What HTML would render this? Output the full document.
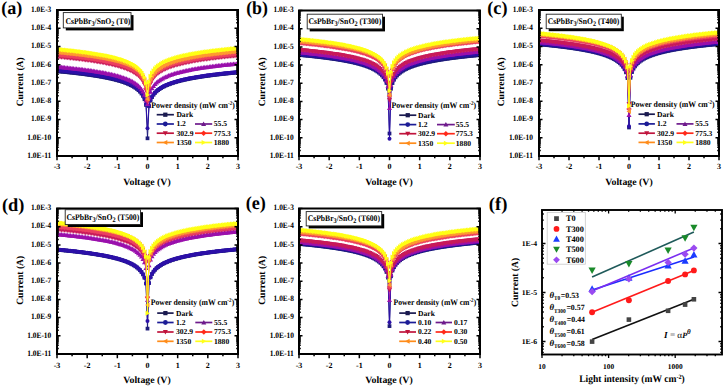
<!DOCTYPE html>
<html><head><meta charset="utf-8"><style>
html,body{margin:0;padding:0;background:#fff;}
body{width:725px;height:386px;overflow:hidden;}
svg{display:block;}
text{font-family:"Liberation Serif",serif;font-weight:bold;fill:#000;text-rendering:geometricPrecision;}
</style></head><body>
<svg width="725" height="386" viewBox="0 0 725 386">
<defs><marker id="m0" markerUnits="userSpaceOnUse" markerWidth="8" markerHeight="8" refX="4" refY="4" overflow="visible"><rect x="2.13" y="2.13" width="3.74" height="3.74" fill="#1e1b7b"/></marker>
<marker id="m1" markerUnits="userSpaceOnUse" markerWidth="8" markerHeight="8" refX="4" refY="4" overflow="visible"><circle cx="4" cy="4" r="1.99" fill="#2c10a8"/></marker>
<marker id="m2" markerUnits="userSpaceOnUse" markerWidth="8" markerHeight="8" refX="4" refY="4" overflow="visible"><polygon points="4,1.5 6.5,6 1.5,6" fill="#9a10ac"/></marker>
<marker id="m3" markerUnits="userSpaceOnUse" markerWidth="8" markerHeight="8" refX="4" refY="4" overflow="visible"><polygon points="4,6.5 6.5,2 1.5,2" fill="#c81a5a"/></marker>
<marker id="m4" markerUnits="userSpaceOnUse" markerWidth="8" markerHeight="8" refX="4" refY="4" overflow="visible"><polygon points="4,1.25 6.75,4 4,6.75 1.25,4" fill="#ec4060"/></marker>
<marker id="m5" markerUnits="userSpaceOnUse" markerWidth="8" markerHeight="8" refX="4" refY="4" overflow="visible"><polygon points="1.5,4 6,1.5 6,6.5" fill="#ff9a30"/></marker>
<marker id="m6" markerUnits="userSpaceOnUse" markerWidth="8" markerHeight="8" refX="4" refY="4" overflow="visible"><polygon points="6.5,4 2,1.5 2,6.5" fill="#ffff14"/></marker>
<clipPath id="ca"><rect x="57" y="10" width="181" height="146"/></clipPath>
<clipPath id="cb"><rect x="299" y="10.5" width="181" height="145.5"/></clipPath>
<clipPath id="cc"><rect x="539" y="10" width="180" height="146"/></clipPath>
<clipPath id="cd"><rect x="57" y="208.5" width="181" height="145.5"/></clipPath>
<clipPath id="ce"><rect x="299" y="208.5" width="181" height="145.5"/></clipPath></defs>
<rect width="725" height="386" fill="#fff"/>
<g clip-path="url(#ca)">
<polyline points="57,71.2 58.51,71.34 60.02,71.48 61.52,71.62 63.03,71.77 64.54,71.92 66.05,72.07 67.56,72.22 69.07,72.38 70.57,72.54 72.08,72.7 73.59,72.87 75.1,73.04 76.61,73.22 78.12,73.39 79.62,73.57 81.13,73.76 82.64,73.95 84.15,74.14 85.66,74.34 87.17,74.55 88.67,74.75 90.18,74.97 91.69,75.19 93.2,75.42 94.71,75.65 96.22,75.89 97.72,76.13 99.23,76.39 100.74,76.65 102.25,76.92 103.76,77.2 105.27,77.49 106.77,77.79 108.28,78.1 109.79,78.42 111.3,78.76 112.81,79.11 114.32,79.48 115.83,79.86 117.33,80.27 118.84,80.69 120.35,81.13 121.86,81.61 123.37,82.11 124.88,82.64 126.38,83.21 127.89,83.82 129.4,84.48 130.91,85.2 132.42,85.98 133.93,86.85 135.43,87.83 136.94,88.93 138.45,90.2 139.96,91.7 141.47,93.55 142.98,95.92 144.48,99.27 145.99,104.98 147.5,138.3 149.01,106.18 150.52,100.47 152.03,97.12 153.53,94.75 155.04,92.9 156.55,91.4 158.06,90.13 159.57,89.03 161.08,88.05 162.58,87.18 164.09,86.4 165.6,85.68 167.11,85.02 168.62,84.41 170.12,83.84 171.63,83.31 173.14,82.81 174.65,82.33 176.16,81.89 177.67,81.47 179.17,81.06 180.68,80.68 182.19,80.31 183.7,79.96 185.21,79.62 186.72,79.3 188.22,78.99 189.73,78.69 191.24,78.4 192.75,78.12 194.26,77.85 195.77,77.59 197.28,77.33 198.78,77.09 200.29,76.85 201.8,76.62 203.31,76.39 204.82,76.17 206.33,75.95 207.83,75.75 209.34,75.54 210.85,75.34 212.36,75.15 213.87,74.96 215.38,74.77 216.88,74.59 218.39,74.42 219.9,74.24 221.41,74.07 222.92,73.9 224.43,73.74 225.93,73.58 227.44,73.42 228.95,73.27 230.46,73.12 231.97,72.97 233.47,72.82 234.98,72.68 236.49,72.54 238,72.4" fill="none" stroke="#1e1b7b" stroke-width="1" marker-start="url(#m0)" marker-mid="url(#m0)" marker-end="url(#m0)"/>
<polyline points="57,70.2 58.51,70.34 60.02,70.48 61.52,70.62 63.03,70.77 64.54,70.92 66.05,71.07 67.56,71.22 69.07,71.38 70.57,71.54 72.08,71.7 73.59,71.87 75.1,72.04 76.61,72.22 78.12,72.39 79.62,72.57 81.13,72.76 82.64,72.95 84.15,73.14 85.66,73.34 87.17,73.55 88.67,73.75 90.18,73.97 91.69,74.19 93.2,74.42 94.71,74.65 96.22,74.89 97.72,75.13 99.23,75.39 100.74,75.65 102.25,75.92 103.76,76.2 105.27,76.49 106.77,76.79 108.28,77.1 109.79,77.42 111.3,77.76 112.81,78.11 114.32,78.48 115.83,78.86 117.33,79.27 118.84,79.69 120.35,80.13 121.86,80.61 123.37,81.11 124.88,81.64 126.38,82.21 127.89,82.82 129.4,83.48 130.91,84.2 132.42,84.98 133.93,85.85 135.43,86.83 136.94,87.93 138.45,89.2 139.96,90.7 141.47,92.55 142.98,94.92 144.48,98.27 145.99,103.98 147.5,128.2 149.01,105.78 150.52,100.07 152.03,96.72 153.53,94.35 155.04,92.5 156.55,91 158.06,89.73 159.57,88.63 161.08,87.65 162.58,86.78 164.09,86 165.6,85.28 167.11,84.62 168.62,84.01 170.12,83.44 171.63,82.91 173.14,82.41 174.65,81.93 176.16,81.49 177.67,81.07 179.17,80.66 180.68,80.28 182.19,79.91 183.7,79.56 185.21,79.22 186.72,78.9 188.22,78.59 189.73,78.29 191.24,78 192.75,77.72 194.26,77.45 195.77,77.19 197.28,76.93 198.78,76.69 200.29,76.45 201.8,76.22 203.31,75.99 204.82,75.77 206.33,75.55 207.83,75.35 209.34,75.14 210.85,74.94 212.36,74.75 213.87,74.56 215.38,74.37 216.88,74.19 218.39,74.02 219.9,73.84 221.41,73.67 222.92,73.5 224.43,73.34 225.93,73.18 227.44,73.02 228.95,72.87 230.46,72.72 231.97,72.57 233.47,72.42 234.98,72.28 236.49,72.14 238,72" fill="none" stroke="#2c10a8" stroke-width="1" marker-start="url(#m1)" marker-mid="url(#m1)" marker-end="url(#m1)"/>
<polyline points="57,66.8 58.51,66.94 60.02,67.08 61.52,67.22 63.03,67.37 64.54,67.52 66.05,67.67 67.56,67.82 69.07,67.98 70.57,68.14 72.08,68.3 73.59,68.47 75.1,68.64 76.61,68.82 78.12,68.99 79.62,69.17 81.13,69.36 82.64,69.55 84.15,69.74 85.66,69.94 87.17,70.15 88.67,70.35 90.18,70.57 91.69,70.79 93.2,71.02 94.71,71.25 96.22,71.49 97.72,71.73 99.23,71.99 100.74,72.25 102.25,72.52 103.76,72.8 105.27,73.09 106.77,73.39 108.28,73.7 109.79,74.02 111.3,74.36 112.81,74.71 114.32,75.08 115.83,75.46 117.33,75.87 118.84,76.29 120.35,76.73 121.86,77.21 123.37,77.71 124.88,78.24 126.38,78.81 127.89,79.42 129.4,80.08 130.91,80.8 132.42,81.58 133.93,82.45 135.43,83.43 136.94,84.53 138.45,85.8 139.96,87.3 141.47,89.15 142.98,91.52 144.48,94.87 145.99,100.58 147.5,104 149.01,97.38 150.52,91.67 152.03,88.32 153.53,85.95 155.04,84.1 156.55,82.6 158.06,81.33 159.57,80.23 161.08,79.25 162.58,78.38 164.09,77.6 165.6,76.88 167.11,76.22 168.62,75.61 170.12,75.04 171.63,74.51 173.14,74.01 174.65,73.53 176.16,73.09 177.67,72.67 179.17,72.26 180.68,71.88 182.19,71.51 183.7,71.16 185.21,70.82 186.72,70.5 188.22,70.19 189.73,69.89 191.24,69.6 192.75,69.32 194.26,69.05 195.77,68.79 197.28,68.53 198.78,68.29 200.29,68.05 201.8,67.82 203.31,67.59 204.82,67.37 206.33,67.15 207.83,66.95 209.34,66.74 210.85,66.54 212.36,66.35 213.87,66.16 215.38,65.97 216.88,65.79 218.39,65.62 219.9,65.44 221.41,65.27 222.92,65.1 224.43,64.94 225.93,64.78 227.44,64.62 228.95,64.47 230.46,64.32 231.97,64.17 233.47,64.02 234.98,63.88 236.49,63.74 238,63.6" fill="none" stroke="#9a10ac" stroke-width="1" marker-start="url(#m2)" marker-mid="url(#m2)" marker-end="url(#m2)"/>
<polyline points="57,56.8 58.51,56.94 60.02,57.08 61.52,57.22 63.03,57.37 64.54,57.52 66.05,57.67 67.56,57.82 69.07,57.98 70.57,58.14 72.08,58.3 73.59,58.47 75.1,58.64 76.61,58.82 78.12,58.99 79.62,59.17 81.13,59.36 82.64,59.55 84.15,59.74 85.66,59.94 87.17,60.15 88.67,60.35 90.18,60.57 91.69,60.79 93.2,61.02 94.71,61.25 96.22,61.49 97.72,61.73 99.23,61.99 100.74,62.25 102.25,62.52 103.76,62.8 105.27,63.09 106.77,63.39 108.28,63.7 109.79,64.02 111.3,64.36 112.81,64.71 114.32,65.08 115.83,65.46 117.33,65.87 118.84,66.29 120.35,66.73 121.86,67.21 123.37,67.71 124.88,68.24 126.38,68.81 127.89,69.42 129.4,70.08 130.91,70.8 132.42,71.58 133.93,72.45 135.43,73.43 136.94,74.53 138.45,75.8 139.96,77.3 141.47,79.15 142.98,81.52 144.48,84.87 145.99,90.58 147.5,102 149.01,89.38 150.52,83.67 152.03,80.32 153.53,77.95 155.04,76.1 156.55,74.6 158.06,73.33 159.57,72.23 161.08,71.25 162.58,70.38 164.09,69.6 165.6,68.88 167.11,68.22 168.62,67.61 170.12,67.04 171.63,66.51 173.14,66.01 174.65,65.53 176.16,65.09 177.67,64.67 179.17,64.26 180.68,63.88 182.19,63.51 183.7,63.16 185.21,62.82 186.72,62.5 188.22,62.19 189.73,61.89 191.24,61.6 192.75,61.32 194.26,61.05 195.77,60.79 197.28,60.53 198.78,60.29 200.29,60.05 201.8,59.82 203.31,59.59 204.82,59.37 206.33,59.15 207.83,58.95 209.34,58.74 210.85,58.54 212.36,58.35 213.87,58.16 215.38,57.97 216.88,57.79 218.39,57.62 219.9,57.44 221.41,57.27 222.92,57.1 224.43,56.94 225.93,56.78 227.44,56.62 228.95,56.47 230.46,56.32 231.97,56.17 233.47,56.02 234.98,55.88 236.49,55.74 238,55.6" fill="none" stroke="#c81a5a" stroke-width="1" marker-start="url(#m3)" marker-mid="url(#m3)" marker-end="url(#m3)"/>
<polyline points="57,54.6 58.51,54.74 60.02,54.88 61.52,55.02 63.03,55.17 64.54,55.32 66.05,55.47 67.56,55.62 69.07,55.78 70.57,55.94 72.08,56.1 73.59,56.27 75.1,56.44 76.61,56.62 78.12,56.79 79.62,56.97 81.13,57.16 82.64,57.35 84.15,57.54 85.66,57.74 87.17,57.95 88.67,58.15 90.18,58.37 91.69,58.59 93.2,58.82 94.71,59.05 96.22,59.29 97.72,59.53 99.23,59.79 100.74,60.05 102.25,60.32 103.76,60.6 105.27,60.89 106.77,61.19 108.28,61.5 109.79,61.82 111.3,62.16 112.81,62.51 114.32,62.88 115.83,63.26 117.33,63.67 118.84,64.09 120.35,64.53 121.86,65.01 123.37,65.51 124.88,66.04 126.38,66.61 127.89,67.22 129.4,67.88 130.91,68.6 132.42,69.38 133.93,70.25 135.43,71.23 136.94,72.33 138.45,73.6 139.96,75.1 141.47,76.95 142.98,79.32 144.48,82.67 145.99,88.38 147.5,100 149.01,87.38 150.52,81.67 152.03,78.32 153.53,75.95 155.04,74.1 156.55,72.6 158.06,71.33 159.57,70.23 161.08,69.25 162.58,68.38 164.09,67.6 165.6,66.88 167.11,66.22 168.62,65.61 170.12,65.04 171.63,64.51 173.14,64.01 174.65,63.53 176.16,63.09 177.67,62.67 179.17,62.26 180.68,61.88 182.19,61.51 183.7,61.16 185.21,60.82 186.72,60.5 188.22,60.19 189.73,59.89 191.24,59.6 192.75,59.32 194.26,59.05 195.77,58.79 197.28,58.53 198.78,58.29 200.29,58.05 201.8,57.82 203.31,57.59 204.82,57.37 206.33,57.15 207.83,56.95 209.34,56.74 210.85,56.54 212.36,56.35 213.87,56.16 215.38,55.97 216.88,55.79 218.39,55.62 219.9,55.44 221.41,55.27 222.92,55.1 224.43,54.94 225.93,54.78 227.44,54.62 228.95,54.47 230.46,54.32 231.97,54.17 233.47,54.02 234.98,53.88 236.49,53.74 238,53.6" fill="none" stroke="#ec4060" stroke-width="1" marker-start="url(#m4)" marker-mid="url(#m4)" marker-end="url(#m4)"/>
<polyline points="57,52.3 58.51,52.44 60.02,52.58 61.52,52.72 63.03,52.87 64.54,53.02 66.05,53.17 67.56,53.32 69.07,53.48 70.57,53.64 72.08,53.8 73.59,53.97 75.1,54.14 76.61,54.32 78.12,54.49 79.62,54.67 81.13,54.86 82.64,55.05 84.15,55.24 85.66,55.44 87.17,55.65 88.67,55.85 90.18,56.07 91.69,56.29 93.2,56.52 94.71,56.75 96.22,56.99 97.72,57.23 99.23,57.49 100.74,57.75 102.25,58.02 103.76,58.3 105.27,58.59 106.77,58.89 108.28,59.2 109.79,59.52 111.3,59.86 112.81,60.21 114.32,60.58 115.83,60.96 117.33,61.37 118.84,61.79 120.35,62.23 121.86,62.71 123.37,63.21 124.88,63.74 126.38,64.31 127.89,64.92 129.4,65.58 130.91,66.3 132.42,67.08 133.93,67.95 135.43,68.93 136.94,70.03 138.45,71.3 139.96,72.8 141.47,74.65 142.98,77.02 144.48,80.37 145.99,86.08 147.5,99 149.01,85.08 150.52,79.37 152.03,76.02 153.53,73.65 155.04,71.8 156.55,70.3 158.06,69.03 159.57,67.93 161.08,66.95 162.58,66.08 164.09,65.3 165.6,64.58 167.11,63.92 168.62,63.31 170.12,62.74 171.63,62.21 173.14,61.71 174.65,61.23 176.16,60.79 177.67,60.37 179.17,59.96 180.68,59.58 182.19,59.21 183.7,58.86 185.21,58.52 186.72,58.2 188.22,57.89 189.73,57.59 191.24,57.3 192.75,57.02 194.26,56.75 195.77,56.49 197.28,56.23 198.78,55.99 200.29,55.75 201.8,55.52 203.31,55.29 204.82,55.07 206.33,54.85 207.83,54.65 209.34,54.44 210.85,54.24 212.36,54.05 213.87,53.86 215.38,53.67 216.88,53.49 218.39,53.32 219.9,53.14 221.41,52.97 222.92,52.8 224.43,52.64 225.93,52.48 227.44,52.32 228.95,52.17 230.46,52.02 231.97,51.87 233.47,51.72 234.98,51.58 236.49,51.44 238,51.3" fill="none" stroke="#ff9a30" stroke-width="1" marker-start="url(#m5)" marker-mid="url(#m5)" marker-end="url(#m5)"/>
<polyline points="57,49.2 58.51,49.34 60.02,49.48 61.52,49.62 63.03,49.77 64.54,49.92 66.05,50.07 67.56,50.22 69.07,50.38 70.57,50.54 72.08,50.7 73.59,50.87 75.1,51.04 76.61,51.22 78.12,51.39 79.62,51.57 81.13,51.76 82.64,51.95 84.15,52.14 85.66,52.34 87.17,52.55 88.67,52.75 90.18,52.97 91.69,53.19 93.2,53.42 94.71,53.65 96.22,53.89 97.72,54.13 99.23,54.39 100.74,54.65 102.25,54.92 103.76,55.2 105.27,55.49 106.77,55.79 108.28,56.1 109.79,56.42 111.3,56.76 112.81,57.11 114.32,57.48 115.83,57.86 117.33,58.27 118.84,58.69 120.35,59.13 121.86,59.61 123.37,60.11 124.88,60.64 126.38,61.21 127.89,61.82 129.4,62.48 130.91,63.2 132.42,63.98 133.93,64.85 135.43,65.83 136.94,66.93 138.45,68.2 139.96,69.7 141.47,71.55 142.98,73.92 144.48,77.27 145.99,82.98 147.5,95 149.01,82.08 150.52,76.37 152.03,73.02 153.53,70.65 155.04,68.8 156.55,67.3 158.06,66.03 159.57,64.93 161.08,63.95 162.58,63.08 164.09,62.3 165.6,61.58 167.11,60.92 168.62,60.31 170.12,59.74 171.63,59.21 173.14,58.71 174.65,58.23 176.16,57.79 177.67,57.37 179.17,56.96 180.68,56.58 182.19,56.21 183.7,55.86 185.21,55.52 186.72,55.2 188.22,54.89 189.73,54.59 191.24,54.3 192.75,54.02 194.26,53.75 195.77,53.49 197.28,53.23 198.78,52.99 200.29,52.75 201.8,52.52 203.31,52.29 204.82,52.07 206.33,51.85 207.83,51.65 209.34,51.44 210.85,51.24 212.36,51.05 213.87,50.86 215.38,50.67 216.88,50.49 218.39,50.32 219.9,50.14 221.41,49.97 222.92,49.8 224.43,49.64 225.93,49.48 227.44,49.32 228.95,49.17 230.46,49.02 231.97,48.87 233.47,48.72 234.98,48.58 236.49,48.44 238,48.3" fill="none" stroke="#ffff14" stroke-width="1" marker-start="url(#m6)" marker-mid="url(#m6)" marker-end="url(#m6)"/>
</g>
<path d="M57 10h3.5M238 10h-3.5M57 22.76h1.8M238 22.76h-1.8M57 19.54h1.8M238 19.54h-1.8M57 17.26h1.8M238 17.26h-1.8M57 15.49h1.8M238 15.49h-1.8M57 14.05h1.8M238 14.05h-1.8M57 12.83h1.8M238 12.83h-1.8M57 11.77h1.8M238 11.77h-1.8M57 10.84h1.8M238 10.84h-1.8M57 28.25h3.5M238 28.25h-3.5M57 41.01h1.8M238 41.01h-1.8M57 37.79h1.8M238 37.79h-1.8M57 35.51h1.8M238 35.51h-1.8M57 33.74h1.8M238 33.74h-1.8M57 32.3h1.8M238 32.3h-1.8M57 31.08h1.8M238 31.08h-1.8M57 30.02h1.8M238 30.02h-1.8M57 29.09h1.8M238 29.09h-1.8M57 46.5h3.5M238 46.5h-3.5M57 59.26h1.8M238 59.26h-1.8M57 56.04h1.8M238 56.04h-1.8M57 53.76h1.8M238 53.76h-1.8M57 51.99h1.8M238 51.99h-1.8M57 50.55h1.8M238 50.55h-1.8M57 49.33h1.8M238 49.33h-1.8M57 48.27h1.8M238 48.27h-1.8M57 47.34h1.8M238 47.34h-1.8M57 64.75h3.5M238 64.75h-3.5M57 77.51h1.8M238 77.51h-1.8M57 74.29h1.8M238 74.29h-1.8M57 72.01h1.8M238 72.01h-1.8M57 70.24h1.8M238 70.24h-1.8M57 68.8h1.8M238 68.8h-1.8M57 67.58h1.8M238 67.58h-1.8M57 66.52h1.8M238 66.52h-1.8M57 65.59h1.8M238 65.59h-1.8M57 83h3.5M238 83h-3.5M57 95.76h1.8M238 95.76h-1.8M57 92.54h1.8M238 92.54h-1.8M57 90.26h1.8M238 90.26h-1.8M57 88.49h1.8M238 88.49h-1.8M57 87.05h1.8M238 87.05h-1.8M57 85.83h1.8M238 85.83h-1.8M57 84.77h1.8M238 84.77h-1.8M57 83.84h1.8M238 83.84h-1.8M57 101.25h3.5M238 101.25h-3.5M57 114.01h1.8M238 114.01h-1.8M57 110.79h1.8M238 110.79h-1.8M57 108.51h1.8M238 108.51h-1.8M57 106.74h1.8M238 106.74h-1.8M57 105.3h1.8M238 105.3h-1.8M57 104.08h1.8M238 104.08h-1.8M57 103.02h1.8M238 103.02h-1.8M57 102.09h1.8M238 102.09h-1.8M57 119.5h3.5M238 119.5h-3.5M57 132.26h1.8M238 132.26h-1.8M57 129.04h1.8M238 129.04h-1.8M57 126.76h1.8M238 126.76h-1.8M57 124.99h1.8M238 124.99h-1.8M57 123.55h1.8M238 123.55h-1.8M57 122.33h1.8M238 122.33h-1.8M57 121.27h1.8M238 121.27h-1.8M57 120.34h1.8M238 120.34h-1.8M57 137.75h3.5M238 137.75h-3.5M57 150.51h1.8M238 150.51h-1.8M57 147.29h1.8M238 147.29h-1.8M57 145.01h1.8M238 145.01h-1.8M57 143.24h1.8M238 143.24h-1.8M57 141.8h1.8M238 141.8h-1.8M57 140.58h1.8M238 140.58h-1.8M57 139.52h1.8M238 139.52h-1.8M57 138.59h1.8M238 138.59h-1.8M57 156h3.5M238 156h-3.5M57 156v4.2M72.08 156v2.2M87.17 156v4.2M102.25 156v2.2M117.33 156v4.2M132.42 156v2.2M147.5 156v4.2M162.58 156v2.2M177.67 156v4.2M192.75 156v2.2M207.83 156v4.2M222.92 156v2.2M238 156v4.2" stroke="#000" stroke-width="1.5" fill="none"/>
<rect x="57" y="10" width="181" height="146" fill="none" stroke="#000" stroke-width="2"/>
<text x="51.3" y="11.8" font-size="8.2" text-anchor="end" textLength="20.3" lengthAdjust="spacingAndGlyphs">1.0E-3</text>
<text x="51.3" y="30.05" font-size="8.2" text-anchor="end" textLength="20.3" lengthAdjust="spacingAndGlyphs">1.0E-4</text>
<text x="51.3" y="48.3" font-size="8.2" text-anchor="end" textLength="20.3" lengthAdjust="spacingAndGlyphs">1.0E-5</text>
<text x="51.3" y="66.55" font-size="8.2" text-anchor="end" textLength="20.3" lengthAdjust="spacingAndGlyphs">1.0E-6</text>
<text x="51.3" y="84.8" font-size="8.2" text-anchor="end" textLength="20.3" lengthAdjust="spacingAndGlyphs">1.0E-7</text>
<text x="51.3" y="103.05" font-size="8.2" text-anchor="end" textLength="20.3" lengthAdjust="spacingAndGlyphs">1.0E-8</text>
<text x="51.3" y="121.3" font-size="8.2" text-anchor="end" textLength="20.3" lengthAdjust="spacingAndGlyphs">1.0E-9</text>
<text x="51.3" y="139.55" font-size="8.2" text-anchor="end" textLength="24.1" lengthAdjust="spacingAndGlyphs">1.0E-10</text>
<text x="51.3" y="157.8" font-size="8.2" text-anchor="end" textLength="24.1" lengthAdjust="spacingAndGlyphs">1.0E-11</text>
<text x="57" y="169.1" font-size="8" text-anchor="middle">-3</text>
<text x="87.17" y="169.1" font-size="8" text-anchor="middle">-2</text>
<text x="117.33" y="169.1" font-size="8" text-anchor="middle">-1</text>
<text x="147.5" y="169.1" font-size="8" text-anchor="middle">0</text>
<text x="177.67" y="169.1" font-size="8" text-anchor="middle">1</text>
<text x="207.83" y="169.1" font-size="8" text-anchor="middle">2</text>
<text x="238" y="169.1" font-size="8" text-anchor="middle">3</text>
<text x="147" y="184.9" font-size="9.7" text-anchor="middle" textLength="47.5" lengthAdjust="spacingAndGlyphs">Voltage (V)</text>
<text x="0" y="0" font-size="9.6" text-anchor="middle" textLength="49" lengthAdjust="spacingAndGlyphs" transform="translate(23 81.8) rotate(-90)">Current (A)</text>
<text x="1.2" y="14.2" font-size="18.5" textLength="21.1" lengthAdjust="spacingAndGlyphs">(a)</text>
<rect x="65.8" y="15.1" width="67.7" height="15.3" fill="#000"/>
<rect x="63.3" y="12.6" width="67.7" height="15.3" fill="#fff" stroke="#222" stroke-width="0.9"/>
<text x="65.5" y="23.5" font-size="8.6" textLength="64.8" lengthAdjust="spacingAndGlyphs">CsPbBr<tspan font-size="7" dy="2">3</tspan><tspan dy="-2">/SnO</tspan><tspan font-size="7" dy="2">2</tspan><tspan dy="-2"> (T0)</tspan></text>
<text x="151.2" y="108.1" font-size="8.3" textLength="83.7" lengthAdjust="spacingAndGlyphs">Power density (mW cm<tspan font-size="5.5" dy="-3">-2</tspan><tspan dy="3">)</tspan></text>
<line x1="156.7" y1="114.7" x2="173.9" y2="114.7" stroke="#1a1a50" stroke-width="1.7"/>
<rect x="163.18" y="112.58" width="4.25" height="4.25" fill="#1a1a50"/>
<text x="176.4" y="117.1" font-size="7.6">Dark</text>
<line x1="156.7" y1="124" x2="173.9" y2="124" stroke="#1c1c96" stroke-width="1.7"/>
<circle cx="165.3" cy="124" r="2.38" fill="#1c1c96"/>
<text x="176.4" y="126.4" font-size="7.6">1.2</text>
<line x1="195" y1="124" x2="212.2" y2="124" stroke="#6e1a8c" stroke-width="1.7"/>
<polygon points="203.6,121.5 206.1,126 201.1,126" fill="#6e1a8c"/>
<text x="213.8" y="126.4" font-size="7.6">55.5</text>
<line x1="156.7" y1="133.2" x2="173.9" y2="133.2" stroke="#c0143c" stroke-width="1.7"/>
<polygon points="165.3,135.7 167.8,131.2 162.8,131.2" fill="#c0143c"/>
<text x="176.4" y="135.6" font-size="7.6">302.9</text>
<line x1="195" y1="133.2" x2="212.2" y2="133.2" stroke="#ff2a1a" stroke-width="1.7"/>
<polygon points="203.6,130.45 206.35,133.2 203.6,135.95 200.85,133.2" fill="#ff2a1a"/>
<text x="213.8" y="135.6" font-size="7.6">775.3</text>
<line x1="156.7" y1="142.5" x2="173.9" y2="142.5" stroke="#ff8c1a" stroke-width="1.7"/>
<polygon points="162.8,142.5 167.3,140 167.3,145" fill="#ff8c1a"/>
<text x="176.4" y="144.9" font-size="7.6">1350</text>
<line x1="195" y1="142.5" x2="212.2" y2="142.5" stroke="#ffff1a" stroke-width="1.7"/>
<polygon points="206.1,142.5 201.6,140 201.6,145" fill="#ffff1a"/>
<text x="213.8" y="144.9" font-size="7.6">1880</text>
<g clip-path="url(#cb)">
<polyline points="299,54.9 300.51,55.04 302.02,55.18 303.52,55.32 305.03,55.47 306.54,55.62 308.05,55.77 309.56,55.92 311.07,56.08 312.57,56.24 314.08,56.4 315.59,56.57 317.1,56.74 318.61,56.92 320.12,57.09 321.62,57.27 323.13,57.46 324.64,57.65 326.15,57.84 327.66,58.04 329.17,58.25 330.68,58.45 332.18,58.67 333.69,58.89 335.2,59.12 336.71,59.35 338.22,59.59 339.73,59.83 341.23,60.09 342.74,60.35 344.25,60.62 345.76,60.9 347.27,61.19 348.77,61.49 350.28,61.8 351.79,62.12 353.3,62.46 354.81,62.81 356.32,63.18 357.82,63.56 359.33,63.97 360.84,64.39 362.35,64.83 363.86,65.31 365.37,65.81 366.88,66.34 368.38,66.91 369.89,67.52 371.4,68.18 372.91,68.9 374.42,69.68 375.93,70.55 377.43,71.53 378.94,72.63 380.45,73.9 381.96,75.4 383.47,77.25 384.98,79.62 386.48,82.97 387.99,88.68 389.5,133.5 391.01,88.78 392.52,83.07 394.02,79.72 395.53,77.35 397.04,75.5 398.55,74 400.06,72.73 401.57,71.63 403.08,70.65 404.58,69.78 406.09,69 407.6,68.28 409.11,67.62 410.62,67.01 412.12,66.44 413.63,65.91 415.14,65.41 416.65,64.93 418.16,64.49 419.67,64.07 421.17,63.66 422.68,63.28 424.19,62.91 425.7,62.56 427.21,62.22 428.72,61.9 430.23,61.59 431.73,61.29 433.24,61 434.75,60.72 436.26,60.45 437.77,60.19 439.27,59.93 440.78,59.69 442.29,59.45 443.8,59.22 445.31,58.99 446.82,58.77 448.33,58.55 449.83,58.35 451.34,58.14 452.85,57.94 454.36,57.75 455.87,57.56 457.38,57.37 458.88,57.19 460.39,57.02 461.9,56.84 463.41,56.67 464.92,56.5 466.43,56.34 467.93,56.18 469.44,56.02 470.95,55.87 472.46,55.72 473.97,55.57 475.48,55.42 476.98,55.28 478.49,55.14 480,55" fill="none" stroke="#1e1b7b" stroke-width="1" marker-start="url(#m0)" marker-mid="url(#m0)" marker-end="url(#m0)"/>
<polyline points="299,54 300.51,54.14 302.02,54.28 303.52,54.42 305.03,54.57 306.54,54.72 308.05,54.87 309.56,55.02 311.07,55.18 312.57,55.34 314.08,55.5 315.59,55.67 317.1,55.84 318.61,56.02 320.12,56.19 321.62,56.37 323.13,56.56 324.64,56.75 326.15,56.94 327.66,57.14 329.17,57.35 330.68,57.55 332.18,57.77 333.69,57.99 335.2,58.22 336.71,58.45 338.22,58.69 339.73,58.93 341.23,59.19 342.74,59.45 344.25,59.72 345.76,60 347.27,60.29 348.77,60.59 350.28,60.9 351.79,61.22 353.3,61.56 354.81,61.91 356.32,62.28 357.82,62.66 359.33,63.07 360.84,63.49 362.35,63.93 363.86,64.41 365.37,64.91 366.88,65.44 368.38,66.01 369.89,66.62 371.4,67.28 372.91,68 374.42,68.78 375.93,69.65 377.43,70.63 378.94,71.73 380.45,73 381.96,74.5 383.47,76.35 384.98,78.72 386.48,82.07 387.99,87.78 389.5,138.7 391.01,87.38 392.52,81.67 394.02,78.32 395.53,75.95 397.04,74.1 398.55,72.6 400.06,71.33 401.57,70.23 403.08,69.25 404.58,68.38 406.09,67.6 407.6,66.88 409.11,66.22 410.62,65.61 412.12,65.04 413.63,64.51 415.14,64.01 416.65,63.53 418.16,63.09 419.67,62.67 421.17,62.26 422.68,61.88 424.19,61.51 425.7,61.16 427.21,60.82 428.72,60.5 430.23,60.19 431.73,59.89 433.24,59.6 434.75,59.32 436.26,59.05 437.77,58.79 439.27,58.53 440.78,58.29 442.29,58.05 443.8,57.82 445.31,57.59 446.82,57.37 448.33,57.15 449.83,56.95 451.34,56.74 452.85,56.54 454.36,56.35 455.87,56.16 457.38,55.97 458.88,55.79 460.39,55.62 461.9,55.44 463.41,55.27 464.92,55.1 466.43,54.94 467.93,54.78 469.44,54.62 470.95,54.47 472.46,54.32 473.97,54.17 475.48,54.02 476.98,53.88 478.49,53.74 480,53.6" fill="none" stroke="#2c10a8" stroke-width="1" marker-start="url(#m1)" marker-mid="url(#m1)" marker-end="url(#m1)"/>
<polyline points="299,52.2 300.51,52.34 302.02,52.48 303.52,52.62 305.03,52.77 306.54,52.92 308.05,53.07 309.56,53.22 311.07,53.38 312.57,53.54 314.08,53.7 315.59,53.87 317.1,54.04 318.61,54.22 320.12,54.39 321.62,54.57 323.13,54.76 324.64,54.95 326.15,55.14 327.66,55.34 329.17,55.55 330.68,55.75 332.18,55.97 333.69,56.19 335.2,56.42 336.71,56.65 338.22,56.89 339.73,57.13 341.23,57.39 342.74,57.65 344.25,57.92 345.76,58.2 347.27,58.49 348.77,58.79 350.28,59.1 351.79,59.42 353.3,59.76 354.81,60.11 356.32,60.48 357.82,60.86 359.33,61.27 360.84,61.69 362.35,62.13 363.86,62.61 365.37,63.11 366.88,63.64 368.38,64.21 369.89,64.82 371.4,65.48 372.91,66.2 374.42,66.98 375.93,67.85 377.43,68.83 378.94,69.93 380.45,71.2 381.96,72.7 383.47,74.55 384.98,76.92 386.48,80.27 387.99,85.98 389.5,108 391.01,85.28 392.52,79.57 394.02,76.22 395.53,73.85 397.04,72 398.55,70.5 400.06,69.23 401.57,68.13 403.08,67.15 404.58,66.28 406.09,65.5 407.6,64.78 409.11,64.12 410.62,63.51 412.12,62.94 413.63,62.41 415.14,61.91 416.65,61.43 418.16,60.99 419.67,60.57 421.17,60.16 422.68,59.78 424.19,59.41 425.7,59.06 427.21,58.72 428.72,58.4 430.23,58.09 431.73,57.79 433.24,57.5 434.75,57.22 436.26,56.95 437.77,56.69 439.27,56.43 440.78,56.19 442.29,55.95 443.8,55.72 445.31,55.49 446.82,55.27 448.33,55.05 449.83,54.85 451.34,54.64 452.85,54.44 454.36,54.25 455.87,54.06 457.38,53.87 458.88,53.69 460.39,53.52 461.9,53.34 463.41,53.17 464.92,53 466.43,52.84 467.93,52.68 469.44,52.52 470.95,52.37 472.46,52.22 473.97,52.07 475.48,51.92 476.98,51.78 478.49,51.64 480,51.5" fill="none" stroke="#9a10ac" stroke-width="1" marker-start="url(#m2)" marker-mid="url(#m2)" marker-end="url(#m2)"/>
<polyline points="299,49.9 300.51,50.04 302.02,50.18 303.52,50.32 305.03,50.47 306.54,50.62 308.05,50.77 309.56,50.92 311.07,51.08 312.57,51.24 314.08,51.4 315.59,51.57 317.1,51.74 318.61,51.92 320.12,52.09 321.62,52.27 323.13,52.46 324.64,52.65 326.15,52.84 327.66,53.04 329.17,53.25 330.68,53.45 332.18,53.67 333.69,53.89 335.2,54.12 336.71,54.35 338.22,54.59 339.73,54.83 341.23,55.09 342.74,55.35 344.25,55.62 345.76,55.9 347.27,56.19 348.77,56.49 350.28,56.8 351.79,57.12 353.3,57.46 354.81,57.81 356.32,58.18 357.82,58.56 359.33,58.97 360.84,59.39 362.35,59.83 363.86,60.31 365.37,60.81 366.88,61.34 368.38,61.91 369.89,62.52 371.4,63.18 372.91,63.9 374.42,64.68 375.93,65.55 377.43,66.53 378.94,67.63 380.45,68.9 381.96,70.4 383.47,72.25 384.98,74.62 386.48,77.97 387.99,83.68 389.5,100 391.01,82.78 392.52,77.07 394.02,73.72 395.53,71.35 397.04,69.5 398.55,68 400.06,66.73 401.57,65.63 403.08,64.65 404.58,63.78 406.09,63 407.6,62.28 409.11,61.62 410.62,61.01 412.12,60.44 413.63,59.91 415.14,59.41 416.65,58.93 418.16,58.49 419.67,58.07 421.17,57.66 422.68,57.28 424.19,56.91 425.7,56.56 427.21,56.22 428.72,55.9 430.23,55.59 431.73,55.29 433.24,55 434.75,54.72 436.26,54.45 437.77,54.19 439.27,53.93 440.78,53.69 442.29,53.45 443.8,53.22 445.31,52.99 446.82,52.77 448.33,52.55 449.83,52.35 451.34,52.14 452.85,51.94 454.36,51.75 455.87,51.56 457.38,51.37 458.88,51.19 460.39,51.02 461.9,50.84 463.41,50.67 464.92,50.5 466.43,50.34 467.93,50.18 469.44,50.02 470.95,49.87 472.46,49.72 473.97,49.57 475.48,49.42 476.98,49.28 478.49,49.14 480,49" fill="none" stroke="#c81a5a" stroke-width="1" marker-start="url(#m3)" marker-mid="url(#m3)" marker-end="url(#m3)"/>
<polyline points="299,42.7 300.51,42.84 302.02,42.98 303.52,43.12 305.03,43.27 306.54,43.42 308.05,43.57 309.56,43.72 311.07,43.88 312.57,44.04 314.08,44.2 315.59,44.37 317.1,44.54 318.61,44.72 320.12,44.89 321.62,45.07 323.13,45.26 324.64,45.45 326.15,45.64 327.66,45.84 329.17,46.05 330.68,46.25 332.18,46.47 333.69,46.69 335.2,46.92 336.71,47.15 338.22,47.39 339.73,47.63 341.23,47.89 342.74,48.15 344.25,48.42 345.76,48.7 347.27,48.99 348.77,49.29 350.28,49.6 351.79,49.92 353.3,50.26 354.81,50.61 356.32,50.98 357.82,51.36 359.33,51.77 360.84,52.19 362.35,52.63 363.86,53.11 365.37,53.61 366.88,54.14 368.38,54.71 369.89,55.32 371.4,55.98 372.91,56.7 374.42,57.48 375.93,58.35 377.43,59.33 378.94,60.43 380.45,61.7 381.96,63.2 383.47,65.05 384.98,67.42 386.48,70.77 387.99,76.48 389.5,96 391.01,75.08 392.52,69.37 394.02,66.02 395.53,63.65 397.04,61.8 398.55,60.3 400.06,59.03 401.57,57.93 403.08,56.95 404.58,56.08 406.09,55.3 407.6,54.58 409.11,53.92 410.62,53.31 412.12,52.74 413.63,52.21 415.14,51.71 416.65,51.23 418.16,50.79 419.67,50.37 421.17,49.96 422.68,49.58 424.19,49.21 425.7,48.86 427.21,48.52 428.72,48.2 430.23,47.89 431.73,47.59 433.24,47.3 434.75,47.02 436.26,46.75 437.77,46.49 439.27,46.23 440.78,45.99 442.29,45.75 443.8,45.52 445.31,45.29 446.82,45.07 448.33,44.85 449.83,44.65 451.34,44.44 452.85,44.24 454.36,44.05 455.87,43.86 457.38,43.67 458.88,43.49 460.39,43.32 461.9,43.14 463.41,42.97 464.92,42.8 466.43,42.64 467.93,42.48 469.44,42.32 470.95,42.17 472.46,42.02 473.97,41.87 475.48,41.72 476.98,41.58 478.49,41.44 480,41.3" fill="none" stroke="#ec4060" stroke-width="1" marker-start="url(#m4)" marker-mid="url(#m4)" marker-end="url(#m4)"/>
<polyline points="299,41.3 300.51,41.44 302.02,41.58 303.52,41.72 305.03,41.87 306.54,42.02 308.05,42.17 309.56,42.32 311.07,42.48 312.57,42.64 314.08,42.8 315.59,42.97 317.1,43.14 318.61,43.32 320.12,43.49 321.62,43.67 323.13,43.86 324.64,44.05 326.15,44.24 327.66,44.44 329.17,44.65 330.68,44.85 332.18,45.07 333.69,45.29 335.2,45.52 336.71,45.75 338.22,45.99 339.73,46.23 341.23,46.49 342.74,46.75 344.25,47.02 345.76,47.3 347.27,47.59 348.77,47.89 350.28,48.2 351.79,48.52 353.3,48.86 354.81,49.21 356.32,49.58 357.82,49.96 359.33,50.37 360.84,50.79 362.35,51.23 363.86,51.71 365.37,52.21 366.88,52.74 368.38,53.31 369.89,53.92 371.4,54.58 372.91,55.3 374.42,56.08 375.93,56.95 377.43,57.93 378.94,59.03 380.45,60.3 381.96,61.8 383.47,63.65 384.98,66.02 386.48,69.37 387.99,75.08 389.5,94.9 391.01,73.78 392.52,68.07 394.02,64.72 395.53,62.35 397.04,60.5 398.55,59 400.06,57.73 401.57,56.63 403.08,55.65 404.58,54.78 406.09,54 407.6,53.28 409.11,52.62 410.62,52.01 412.12,51.44 413.63,50.91 415.14,50.41 416.65,49.93 418.16,49.49 419.67,49.07 421.17,48.66 422.68,48.28 424.19,47.91 425.7,47.56 427.21,47.22 428.72,46.9 430.23,46.59 431.73,46.29 433.24,46 434.75,45.72 436.26,45.45 437.77,45.19 439.27,44.93 440.78,44.69 442.29,44.45 443.8,44.22 445.31,43.99 446.82,43.77 448.33,43.55 449.83,43.35 451.34,43.14 452.85,42.94 454.36,42.75 455.87,42.56 457.38,42.37 458.88,42.19 460.39,42.02 461.9,41.84 463.41,41.67 464.92,41.5 466.43,41.34 467.93,41.18 469.44,41.02 470.95,40.87 472.46,40.72 473.97,40.57 475.48,40.42 476.98,40.28 478.49,40.14 480,40" fill="none" stroke="#ff9a30" stroke-width="1" marker-start="url(#m5)" marker-mid="url(#m5)" marker-end="url(#m5)"/>
<polyline points="299,39.1 300.51,39.24 302.02,39.38 303.52,39.52 305.03,39.67 306.54,39.82 308.05,39.97 309.56,40.12 311.07,40.28 312.57,40.44 314.08,40.6 315.59,40.77 317.1,40.94 318.61,41.12 320.12,41.29 321.62,41.47 323.13,41.66 324.64,41.85 326.15,42.04 327.66,42.24 329.17,42.45 330.68,42.65 332.18,42.87 333.69,43.09 335.2,43.32 336.71,43.55 338.22,43.79 339.73,44.03 341.23,44.29 342.74,44.55 344.25,44.82 345.76,45.1 347.27,45.39 348.77,45.69 350.28,46 351.79,46.32 353.3,46.66 354.81,47.01 356.32,47.38 357.82,47.76 359.33,48.17 360.84,48.59 362.35,49.03 363.86,49.51 365.37,50.01 366.88,50.54 368.38,51.11 369.89,51.72 371.4,52.38 372.91,53.1 374.42,53.88 375.93,54.75 377.43,55.73 378.94,56.83 380.45,58.1 381.96,59.6 383.47,61.45 384.98,63.82 386.48,67.17 387.99,72.88 389.5,90.7 391.01,71.88 392.52,66.17 394.02,62.82 395.53,60.45 397.04,58.6 398.55,57.1 400.06,55.83 401.57,54.73 403.08,53.75 404.58,52.88 406.09,52.1 407.6,51.38 409.11,50.72 410.62,50.11 412.12,49.54 413.63,49.01 415.14,48.51 416.65,48.03 418.16,47.59 419.67,47.17 421.17,46.76 422.68,46.38 424.19,46.01 425.7,45.66 427.21,45.32 428.72,45 430.23,44.69 431.73,44.39 433.24,44.1 434.75,43.82 436.26,43.55 437.77,43.29 439.27,43.03 440.78,42.79 442.29,42.55 443.8,42.32 445.31,42.09 446.82,41.87 448.33,41.65 449.83,41.45 451.34,41.24 452.85,41.04 454.36,40.85 455.87,40.66 457.38,40.47 458.88,40.29 460.39,40.12 461.9,39.94 463.41,39.77 464.92,39.6 466.43,39.44 467.93,39.28 469.44,39.12 470.95,38.97 472.46,38.82 473.97,38.67 475.48,38.52 476.98,38.38 478.49,38.24 480,38.1" fill="none" stroke="#ffff14" stroke-width="1" marker-start="url(#m6)" marker-mid="url(#m6)" marker-end="url(#m6)"/>
</g>
<path d="M299 10.5h3.5M480 10.5h-3.5M299 23.21h1.8M480 23.21h-1.8M299 20.01h1.8M480 20.01h-1.8M299 17.74h1.8M480 17.74h-1.8M299 15.97h1.8M480 15.97h-1.8M299 14.53h1.8M480 14.53h-1.8M299 13.32h1.8M480 13.32h-1.8M299 12.26h1.8M480 12.26h-1.8M299 11.33h1.8M480 11.33h-1.8M299 28.69h3.5M480 28.69h-3.5M299 41.4h1.8M480 41.4h-1.8M299 38.2h1.8M480 38.2h-1.8M299 35.93h1.8M480 35.93h-1.8M299 34.16h1.8M480 34.16h-1.8M299 32.72h1.8M480 32.72h-1.8M299 31.5h1.8M480 31.5h-1.8M299 30.45h1.8M480 30.45h-1.8M299 29.52h1.8M480 29.52h-1.8M299 46.88h3.5M480 46.88h-3.5M299 59.59h1.8M480 59.59h-1.8M299 56.38h1.8M480 56.38h-1.8M299 54.11h1.8M480 54.11h-1.8M299 52.35h1.8M480 52.35h-1.8M299 50.91h1.8M480 50.91h-1.8M299 49.69h1.8M480 49.69h-1.8M299 48.64h1.8M480 48.64h-1.8M299 47.71h1.8M480 47.71h-1.8M299 65.06h3.5M480 65.06h-3.5M299 77.78h1.8M480 77.78h-1.8M299 74.57h1.8M480 74.57h-1.8M299 72.3h1.8M480 72.3h-1.8M299 70.54h1.8M480 70.54h-1.8M299 69.1h1.8M480 69.1h-1.8M299 67.88h1.8M480 67.88h-1.8M299 66.83h1.8M480 66.83h-1.8M299 65.89h1.8M480 65.89h-1.8M299 83.25h3.5M480 83.25h-3.5M299 95.96h1.8M480 95.96h-1.8M299 92.76h1.8M480 92.76h-1.8M299 90.49h1.8M480 90.49h-1.8M299 88.72h1.8M480 88.72h-1.8M299 87.28h1.8M480 87.28h-1.8M299 86.07h1.8M480 86.07h-1.8M299 85.01h1.8M480 85.01h-1.8M299 84.08h1.8M480 84.08h-1.8M299 101.44h3.5M480 101.44h-3.5M299 114.15h1.8M480 114.15h-1.8M299 110.95h1.8M480 110.95h-1.8M299 108.68h1.8M480 108.68h-1.8M299 106.91h1.8M480 106.91h-1.8M299 105.47h1.8M480 105.47h-1.8M299 104.25h1.8M480 104.25h-1.8M299 103.2h1.8M480 103.2h-1.8M299 102.27h1.8M480 102.27h-1.8M299 119.62h3.5M480 119.62h-3.5M299 132.34h1.8M480 132.34h-1.8M299 129.13h1.8M480 129.13h-1.8M299 126.86h1.8M480 126.86h-1.8M299 125.1h1.8M480 125.1h-1.8M299 123.66h1.8M480 123.66h-1.8M299 122.44h1.8M480 122.44h-1.8M299 121.39h1.8M480 121.39h-1.8M299 120.46h1.8M480 120.46h-1.8M299 137.81h3.5M480 137.81h-3.5M299 150.53h1.8M480 150.53h-1.8M299 147.32h1.8M480 147.32h-1.8M299 145.05h1.8M480 145.05h-1.8M299 143.29h1.8M480 143.29h-1.8M299 141.85h1.8M480 141.85h-1.8M299 140.63h1.8M480 140.63h-1.8M299 139.58h1.8M480 139.58h-1.8M299 138.64h1.8M480 138.64h-1.8M299 156h3.5M480 156h-3.5M299 156v4.2M314.08 156v2.2M329.17 156v4.2M344.25 156v2.2M359.33 156v4.2M374.42 156v2.2M389.5 156v4.2M404.58 156v2.2M419.67 156v4.2M434.75 156v2.2M449.83 156v4.2M464.92 156v2.2M480 156v4.2" stroke="#000" stroke-width="1.5" fill="none"/>
<rect x="299" y="10.5" width="181" height="145.5" fill="none" stroke="#000" stroke-width="2"/>
<text x="293.8" y="12.3" font-size="8.2" text-anchor="end" textLength="20.3" lengthAdjust="spacingAndGlyphs">1.0E-3</text>
<text x="293.8" y="30.49" font-size="8.2" text-anchor="end" textLength="20.3" lengthAdjust="spacingAndGlyphs">1.0E-4</text>
<text x="293.8" y="48.67" font-size="8.2" text-anchor="end" textLength="20.3" lengthAdjust="spacingAndGlyphs">1.0E-5</text>
<text x="293.8" y="66.86" font-size="8.2" text-anchor="end" textLength="20.3" lengthAdjust="spacingAndGlyphs">1.0E-6</text>
<text x="293.8" y="85.05" font-size="8.2" text-anchor="end" textLength="20.3" lengthAdjust="spacingAndGlyphs">1.0E-7</text>
<text x="293.8" y="103.24" font-size="8.2" text-anchor="end" textLength="20.3" lengthAdjust="spacingAndGlyphs">1.0E-8</text>
<text x="293.8" y="121.42" font-size="8.2" text-anchor="end" textLength="20.3" lengthAdjust="spacingAndGlyphs">1.0E-9</text>
<text x="293.8" y="139.61" font-size="8.2" text-anchor="end" textLength="24.1" lengthAdjust="spacingAndGlyphs">1.0E-10</text>
<text x="293.8" y="157.8" font-size="8.2" text-anchor="end" textLength="24.1" lengthAdjust="spacingAndGlyphs">1.0E-11</text>
<text x="299" y="169.1" font-size="8" text-anchor="middle">-3</text>
<text x="329.17" y="169.1" font-size="8" text-anchor="middle">-2</text>
<text x="359.33" y="169.1" font-size="8" text-anchor="middle">-1</text>
<text x="389.5" y="169.1" font-size="8" text-anchor="middle">0</text>
<text x="419.67" y="169.1" font-size="8" text-anchor="middle">1</text>
<text x="449.83" y="169.1" font-size="8" text-anchor="middle">2</text>
<text x="480" y="169.1" font-size="8" text-anchor="middle">3</text>
<text x="389" y="184.9" font-size="9.7" text-anchor="middle" textLength="47.5" lengthAdjust="spacingAndGlyphs">Voltage (V)</text>
<text x="0" y="0" font-size="9.6" text-anchor="middle" textLength="49" lengthAdjust="spacingAndGlyphs" transform="translate(265 81.8) rotate(-90)">Current (A)</text>
<text x="246.2" y="13.8" font-size="18.5" textLength="21.8" lengthAdjust="spacingAndGlyphs">(b)</text>
<rect x="309.7" y="16.7" width="75.3" height="14.7" fill="#000"/>
<rect x="307.2" y="14.2" width="75.3" height="14.7" fill="#fff" stroke="#222" stroke-width="0.9"/>
<text x="308.4" y="23.7" font-size="8.6" textLength="72.9" lengthAdjust="spacingAndGlyphs">CsPbBr<tspan font-size="7" dy="2">3</tspan><tspan dy="-2">/SnO</tspan><tspan font-size="7" dy="2">2</tspan><tspan dy="-2"> (T300)</tspan></text>
<text x="391.4" y="108.1" font-size="8.3" textLength="84.8" lengthAdjust="spacingAndGlyphs">Power density (mW cm<tspan font-size="5.5" dy="-3">-2</tspan><tspan dy="3">)</tspan></text>
<line x1="399.2" y1="115.2" x2="416.3" y2="115.2" stroke="#1a1a50" stroke-width="1.7"/>
<rect x="405.62" y="113.08" width="4.25" height="4.25" fill="#1a1a50"/>
<text x="418" y="117.6" font-size="7.6">Dark</text>
<line x1="399.2" y1="124.6" x2="416.3" y2="124.6" stroke="#1c1c96" stroke-width="1.7"/>
<circle cx="407.75" cy="124.6" r="2.38" fill="#1c1c96"/>
<text x="418" y="127" font-size="7.6">1.2</text>
<line x1="437" y1="124.6" x2="454.8" y2="124.6" stroke="#6e1a8c" stroke-width="1.7"/>
<polygon points="445.9,122.1 448.4,126.6 443.4,126.6" fill="#6e1a8c"/>
<text x="455.8" y="127" font-size="7.6">55.5</text>
<line x1="399.2" y1="133.7" x2="416.3" y2="133.7" stroke="#c0143c" stroke-width="1.7"/>
<polygon points="407.75,136.2 410.25,131.7 405.25,131.7" fill="#c0143c"/>
<text x="418" y="136.1" font-size="7.6">302.9</text>
<line x1="437" y1="133.7" x2="454.8" y2="133.7" stroke="#ff2a1a" stroke-width="1.7"/>
<polygon points="445.9,130.95 448.65,133.7 445.9,136.45 443.15,133.7" fill="#ff2a1a"/>
<text x="455.8" y="136.1" font-size="7.6">775.3</text>
<line x1="399.2" y1="143.2" x2="416.3" y2="143.2" stroke="#ff8c1a" stroke-width="1.7"/>
<polygon points="405.25,143.2 409.75,140.7 409.75,145.7" fill="#ff8c1a"/>
<text x="418" y="145.6" font-size="7.6">1350</text>
<line x1="437" y1="143.2" x2="454.8" y2="143.2" stroke="#ffff1a" stroke-width="1.7"/>
<polygon points="448.4,143.2 443.9,140.7 443.9,145.7" fill="#ffff1a"/>
<text x="455.8" y="145.6" font-size="7.6">1880</text>
<g clip-path="url(#cc)">
<polyline points="539,44.3 540.5,44.44 542,44.58 543.5,44.72 545,44.87 546.5,45.02 548,45.17 549.5,45.32 551,45.48 552.5,45.64 554,45.8 555.5,45.97 557,46.14 558.5,46.32 560,46.49 561.5,46.67 563,46.86 564.5,47.05 566,47.24 567.5,47.44 569,47.65 570.5,47.85 572,48.07 573.5,48.29 575,48.52 576.5,48.75 578,48.99 579.5,49.23 581,49.49 582.5,49.75 584,50.02 585.5,50.3 587,50.59 588.5,50.89 590,51.2 591.5,51.52 593,51.86 594.5,52.21 596,52.58 597.5,52.96 599,53.37 600.5,53.79 602,54.23 603.5,54.71 605,55.21 606.5,55.74 608,56.31 609.5,56.92 611,57.58 612.5,58.3 614,59.08 615.5,59.95 617,60.93 618.5,62.03 620,63.3 621.5,64.8 623,66.65 624.5,69.02 626,72.37 627.5,78.08 629,127.5 630.5,77.78 632,72.07 633.5,68.72 635,66.35 636.5,64.5 638,63 639.5,61.73 641,60.63 642.5,59.65 644,58.78 645.5,58 647,57.28 648.5,56.62 650,56.01 651.5,55.44 653,54.91 654.5,54.41 656,53.93 657.5,53.49 659,53.07 660.5,52.66 662,52.28 663.5,51.91 665,51.56 666.5,51.22 668,50.9 669.5,50.59 671,50.29 672.5,50 674,49.72 675.5,49.45 677,49.19 678.5,48.93 680,48.69 681.5,48.45 683,48.22 684.5,47.99 686,47.77 687.5,47.55 689,47.35 690.5,47.14 692,46.94 693.5,46.75 695,46.56 696.5,46.37 698,46.19 699.5,46.02 701,45.84 702.5,45.67 704,45.5 705.5,45.34 707,45.18 708.5,45.02 710,44.87 711.5,44.72 713,44.57 714.5,44.42 716,44.28 717.5,44.14 719,44" fill="none" stroke="#1e1b7b" stroke-width="1" marker-start="url(#m0)" marker-mid="url(#m0)" marker-end="url(#m0)"/>
<polyline points="539,43.5 540.5,43.64 542,43.78 543.5,43.92 545,44.07 546.5,44.22 548,44.37 549.5,44.52 551,44.68 552.5,44.84 554,45 555.5,45.17 557,45.34 558.5,45.52 560,45.69 561.5,45.87 563,46.06 564.5,46.25 566,46.44 567.5,46.64 569,46.85 570.5,47.05 572,47.27 573.5,47.49 575,47.72 576.5,47.95 578,48.19 579.5,48.43 581,48.69 582.5,48.95 584,49.22 585.5,49.5 587,49.79 588.5,50.09 590,50.4 591.5,50.72 593,51.06 594.5,51.41 596,51.78 597.5,52.16 599,52.57 600.5,52.99 602,53.43 603.5,53.91 605,54.41 606.5,54.94 608,55.51 609.5,56.12 611,56.78 612.5,57.5 614,58.28 615.5,59.15 617,60.13 618.5,61.23 620,62.5 621.5,64 623,65.85 624.5,68.22 626,71.57 627.5,77.28 629,126.3 630.5,76.78 632,71.07 633.5,67.72 635,65.35 636.5,63.5 638,62 639.5,60.73 641,59.63 642.5,58.65 644,57.78 645.5,57 647,56.28 648.5,55.62 650,55.01 651.5,54.44 653,53.91 654.5,53.41 656,52.93 657.5,52.49 659,52.07 660.5,51.66 662,51.28 663.5,50.91 665,50.56 666.5,50.22 668,49.9 669.5,49.59 671,49.29 672.5,49 674,48.72 675.5,48.45 677,48.19 678.5,47.93 680,47.69 681.5,47.45 683,47.22 684.5,46.99 686,46.77 687.5,46.55 689,46.35 690.5,46.14 692,45.94 693.5,45.75 695,45.56 696.5,45.37 698,45.19 699.5,45.02 701,44.84 702.5,44.67 704,44.5 705.5,44.34 707,44.18 708.5,44.02 710,43.87 711.5,43.72 713,43.57 714.5,43.42 716,43.28 717.5,43.14 719,43" fill="none" stroke="#2c10a8" stroke-width="1" marker-start="url(#m1)" marker-mid="url(#m1)" marker-end="url(#m1)"/>
<polyline points="539,42 540.5,42.14 542,42.28 543.5,42.42 545,42.57 546.5,42.72 548,42.87 549.5,43.02 551,43.18 552.5,43.34 554,43.5 555.5,43.67 557,43.84 558.5,44.02 560,44.19 561.5,44.37 563,44.56 564.5,44.75 566,44.94 567.5,45.14 569,45.35 570.5,45.55 572,45.77 573.5,45.99 575,46.22 576.5,46.45 578,46.69 579.5,46.93 581,47.19 582.5,47.45 584,47.72 585.5,48 587,48.29 588.5,48.59 590,48.9 591.5,49.22 593,49.56 594.5,49.91 596,50.28 597.5,50.66 599,51.07 600.5,51.49 602,51.93 603.5,52.41 605,52.91 606.5,53.44 608,54.01 609.5,54.62 611,55.28 612.5,56 614,56.78 615.5,57.65 617,58.63 618.5,59.73 620,61 621.5,62.5 623,64.35 624.5,66.72 626,70.07 627.5,75.78 629,115 630.5,75.28 632,69.57 633.5,66.22 635,63.85 636.5,62 638,60.5 639.5,59.23 641,58.13 642.5,57.15 644,56.28 645.5,55.5 647,54.78 648.5,54.12 650,53.51 651.5,52.94 653,52.41 654.5,51.91 656,51.43 657.5,50.99 659,50.57 660.5,50.16 662,49.78 663.5,49.41 665,49.06 666.5,48.72 668,48.4 669.5,48.09 671,47.79 672.5,47.5 674,47.22 675.5,46.95 677,46.69 678.5,46.43 680,46.19 681.5,45.95 683,45.72 684.5,45.49 686,45.27 687.5,45.05 689,44.85 690.5,44.64 692,44.44 693.5,44.25 695,44.06 696.5,43.87 698,43.69 699.5,43.52 701,43.34 702.5,43.17 704,43 705.5,42.84 707,42.68 708.5,42.52 710,42.37 711.5,42.22 713,42.07 714.5,41.92 716,41.78 717.5,41.64 719,41.5" fill="none" stroke="#9a10ac" stroke-width="1" marker-start="url(#m2)" marker-mid="url(#m2)" marker-end="url(#m2)"/>
<polyline points="539,40.5 540.5,40.64 542,40.78 543.5,40.92 545,41.07 546.5,41.22 548,41.37 549.5,41.52 551,41.68 552.5,41.84 554,42 555.5,42.17 557,42.34 558.5,42.52 560,42.69 561.5,42.87 563,43.06 564.5,43.25 566,43.44 567.5,43.64 569,43.85 570.5,44.05 572,44.27 573.5,44.49 575,44.72 576.5,44.95 578,45.19 579.5,45.43 581,45.69 582.5,45.95 584,46.22 585.5,46.5 587,46.79 588.5,47.09 590,47.4 591.5,47.72 593,48.06 594.5,48.41 596,48.78 597.5,49.16 599,49.57 600.5,49.99 602,50.43 603.5,50.91 605,51.41 606.5,51.94 608,52.51 609.5,53.12 611,53.78 612.5,54.5 614,55.28 615.5,56.15 617,57.13 618.5,58.23 620,59.5 621.5,61 623,62.85 624.5,65.22 626,68.57 627.5,74.28 629,104 630.5,72.58 632,66.87 633.5,63.52 635,61.15 636.5,59.3 638,57.8 639.5,56.53 641,55.43 642.5,54.45 644,53.58 645.5,52.8 647,52.08 648.5,51.42 650,50.81 651.5,50.24 653,49.71 654.5,49.21 656,48.73 657.5,48.29 659,47.87 660.5,47.46 662,47.08 663.5,46.71 665,46.36 666.5,46.02 668,45.7 669.5,45.39 671,45.09 672.5,44.8 674,44.52 675.5,44.25 677,43.99 678.5,43.73 680,43.49 681.5,43.25 683,43.02 684.5,42.79 686,42.57 687.5,42.35 689,42.15 690.5,41.94 692,41.74 693.5,41.55 695,41.36 696.5,41.17 698,40.99 699.5,40.82 701,40.64 702.5,40.47 704,40.3 705.5,40.14 707,39.98 708.5,39.82 710,39.67 711.5,39.52 713,39.37 714.5,39.22 716,39.08 717.5,38.94 719,38.8" fill="none" stroke="#c81a5a" stroke-width="1" marker-start="url(#m3)" marker-mid="url(#m3)" marker-end="url(#m3)"/>
<polyline points="539,35.7 540.5,35.84 542,35.98 543.5,36.12 545,36.27 546.5,36.42 548,36.57 549.5,36.72 551,36.88 552.5,37.04 554,37.2 555.5,37.37 557,37.54 558.5,37.72 560,37.89 561.5,38.07 563,38.26 564.5,38.45 566,38.64 567.5,38.84 569,39.05 570.5,39.25 572,39.47 573.5,39.69 575,39.92 576.5,40.15 578,40.39 579.5,40.63 581,40.89 582.5,41.15 584,41.42 585.5,41.7 587,41.99 588.5,42.29 590,42.6 591.5,42.92 593,43.26 594.5,43.61 596,43.98 597.5,44.36 599,44.77 600.5,45.19 602,45.63 603.5,46.11 605,46.61 606.5,47.14 608,47.71 609.5,48.32 611,48.98 612.5,49.7 614,50.48 615.5,51.35 617,52.33 618.5,53.43 620,54.7 621.5,56.2 623,58.05 624.5,60.42 626,63.77 627.5,69.48 629,109 630.5,69.08 632,63.37 633.5,60.02 635,57.65 636.5,55.8 638,54.3 639.5,53.03 641,51.93 642.5,50.95 644,50.08 645.5,49.3 647,48.58 648.5,47.92 650,47.31 651.5,46.74 653,46.21 654.5,45.71 656,45.23 657.5,44.79 659,44.37 660.5,43.96 662,43.58 663.5,43.21 665,42.86 666.5,42.52 668,42.2 669.5,41.89 671,41.59 672.5,41.3 674,41.02 675.5,40.75 677,40.49 678.5,40.23 680,39.99 681.5,39.75 683,39.52 684.5,39.29 686,39.07 687.5,38.85 689,38.65 690.5,38.44 692,38.24 693.5,38.05 695,37.86 696.5,37.67 698,37.49 699.5,37.32 701,37.14 702.5,36.97 704,36.8 705.5,36.64 707,36.48 708.5,36.32 710,36.17 711.5,36.02 713,35.87 714.5,35.72 716,35.58 717.5,35.44 719,35.3" fill="none" stroke="#ec4060" stroke-width="1" marker-start="url(#m4)" marker-mid="url(#m4)" marker-end="url(#m4)"/>
<polyline points="539,34.5 540.5,34.64 542,34.78 543.5,34.92 545,35.07 546.5,35.22 548,35.37 549.5,35.52 551,35.68 552.5,35.84 554,36 555.5,36.17 557,36.34 558.5,36.52 560,36.69 561.5,36.87 563,37.06 564.5,37.25 566,37.44 567.5,37.64 569,37.85 570.5,38.05 572,38.27 573.5,38.49 575,38.72 576.5,38.95 578,39.19 579.5,39.43 581,39.69 582.5,39.95 584,40.22 585.5,40.5 587,40.79 588.5,41.09 590,41.4 591.5,41.72 593,42.06 594.5,42.41 596,42.78 597.5,43.16 599,43.57 600.5,43.99 602,44.43 603.5,44.91 605,45.41 606.5,45.94 608,46.51 609.5,47.12 611,47.78 612.5,48.5 614,49.28 615.5,50.15 617,51.13 618.5,52.23 620,53.5 621.5,55 623,56.85 624.5,59.22 626,62.57 627.5,68.28 629,111.5 630.5,67.78 632,62.07 633.5,58.72 635,56.35 636.5,54.5 638,53 639.5,51.73 641,50.63 642.5,49.65 644,48.78 645.5,48 647,47.28 648.5,46.62 650,46.01 651.5,45.44 653,44.91 654.5,44.41 656,43.93 657.5,43.49 659,43.07 660.5,42.66 662,42.28 663.5,41.91 665,41.56 666.5,41.22 668,40.9 669.5,40.59 671,40.29 672.5,40 674,39.72 675.5,39.45 677,39.19 678.5,38.93 680,38.69 681.5,38.45 683,38.22 684.5,37.99 686,37.77 687.5,37.55 689,37.35 690.5,37.14 692,36.94 693.5,36.75 695,36.56 696.5,36.37 698,36.19 699.5,36.02 701,35.84 702.5,35.67 704,35.5 705.5,35.34 707,35.18 708.5,35.02 710,34.87 711.5,34.72 713,34.57 714.5,34.42 716,34.28 717.5,34.14 719,34" fill="none" stroke="#ff9a30" stroke-width="1" marker-start="url(#m5)" marker-mid="url(#m5)" marker-end="url(#m5)"/>
<polyline points="539,33.3 540.5,33.44 542,33.58 543.5,33.72 545,33.87 546.5,34.02 548,34.17 549.5,34.32 551,34.48 552.5,34.64 554,34.8 555.5,34.97 557,35.14 558.5,35.32 560,35.49 561.5,35.67 563,35.86 564.5,36.05 566,36.24 567.5,36.44 569,36.65 570.5,36.85 572,37.07 573.5,37.29 575,37.52 576.5,37.75 578,37.99 579.5,38.23 581,38.49 582.5,38.75 584,39.02 585.5,39.3 587,39.59 588.5,39.89 590,40.2 591.5,40.52 593,40.86 594.5,41.21 596,41.58 597.5,41.96 599,42.37 600.5,42.79 602,43.23 603.5,43.71 605,44.21 606.5,44.74 608,45.31 609.5,45.92 611,46.58 612.5,47.3 614,48.08 615.5,48.95 617,49.93 618.5,51.03 620,52.3 621.5,53.8 623,55.65 624.5,58.02 626,61.37 627.5,67.08 629,106 630.5,66.28 632,60.57 633.5,57.22 635,54.85 636.5,53 638,51.5 639.5,50.23 641,49.13 642.5,48.15 644,47.28 645.5,46.5 647,45.78 648.5,45.12 650,44.51 651.5,43.94 653,43.41 654.5,42.91 656,42.43 657.5,41.99 659,41.57 660.5,41.16 662,40.78 663.5,40.41 665,40.06 666.5,39.72 668,39.4 669.5,39.09 671,38.79 672.5,38.5 674,38.22 675.5,37.95 677,37.69 678.5,37.43 680,37.19 681.5,36.95 683,36.72 684.5,36.49 686,36.27 687.5,36.05 689,35.85 690.5,35.64 692,35.44 693.5,35.25 695,35.06 696.5,34.87 698,34.69 699.5,34.52 701,34.34 702.5,34.17 704,34 705.5,33.84 707,33.68 708.5,33.52 710,33.37 711.5,33.22 713,33.07 714.5,32.92 716,32.78 717.5,32.64 719,32.5" fill="none" stroke="#ffff14" stroke-width="1" marker-start="url(#m6)" marker-mid="url(#m6)" marker-end="url(#m6)"/>
</g>
<path d="M539 10h3.5M719 10h-3.5M539 22.76h1.8M719 22.76h-1.8M539 19.54h1.8M719 19.54h-1.8M539 17.26h1.8M719 17.26h-1.8M539 15.49h1.8M719 15.49h-1.8M539 14.05h1.8M719 14.05h-1.8M539 12.83h1.8M719 12.83h-1.8M539 11.77h1.8M719 11.77h-1.8M539 10.84h1.8M719 10.84h-1.8M539 28.25h3.5M719 28.25h-3.5M539 41.01h1.8M719 41.01h-1.8M539 37.79h1.8M719 37.79h-1.8M539 35.51h1.8M719 35.51h-1.8M539 33.74h1.8M719 33.74h-1.8M539 32.3h1.8M719 32.3h-1.8M539 31.08h1.8M719 31.08h-1.8M539 30.02h1.8M719 30.02h-1.8M539 29.09h1.8M719 29.09h-1.8M539 46.5h3.5M719 46.5h-3.5M539 59.26h1.8M719 59.26h-1.8M539 56.04h1.8M719 56.04h-1.8M539 53.76h1.8M719 53.76h-1.8M539 51.99h1.8M719 51.99h-1.8M539 50.55h1.8M719 50.55h-1.8M539 49.33h1.8M719 49.33h-1.8M539 48.27h1.8M719 48.27h-1.8M539 47.34h1.8M719 47.34h-1.8M539 64.75h3.5M719 64.75h-3.5M539 77.51h1.8M719 77.51h-1.8M539 74.29h1.8M719 74.29h-1.8M539 72.01h1.8M719 72.01h-1.8M539 70.24h1.8M719 70.24h-1.8M539 68.8h1.8M719 68.8h-1.8M539 67.58h1.8M719 67.58h-1.8M539 66.52h1.8M719 66.52h-1.8M539 65.59h1.8M719 65.59h-1.8M539 83h3.5M719 83h-3.5M539 95.76h1.8M719 95.76h-1.8M539 92.54h1.8M719 92.54h-1.8M539 90.26h1.8M719 90.26h-1.8M539 88.49h1.8M719 88.49h-1.8M539 87.05h1.8M719 87.05h-1.8M539 85.83h1.8M719 85.83h-1.8M539 84.77h1.8M719 84.77h-1.8M539 83.84h1.8M719 83.84h-1.8M539 101.25h3.5M719 101.25h-3.5M539 114.01h1.8M719 114.01h-1.8M539 110.79h1.8M719 110.79h-1.8M539 108.51h1.8M719 108.51h-1.8M539 106.74h1.8M719 106.74h-1.8M539 105.3h1.8M719 105.3h-1.8M539 104.08h1.8M719 104.08h-1.8M539 103.02h1.8M719 103.02h-1.8M539 102.09h1.8M719 102.09h-1.8M539 119.5h3.5M719 119.5h-3.5M539 132.26h1.8M719 132.26h-1.8M539 129.04h1.8M719 129.04h-1.8M539 126.76h1.8M719 126.76h-1.8M539 124.99h1.8M719 124.99h-1.8M539 123.55h1.8M719 123.55h-1.8M539 122.33h1.8M719 122.33h-1.8M539 121.27h1.8M719 121.27h-1.8M539 120.34h1.8M719 120.34h-1.8M539 137.75h3.5M719 137.75h-3.5M539 150.51h1.8M719 150.51h-1.8M539 147.29h1.8M719 147.29h-1.8M539 145.01h1.8M719 145.01h-1.8M539 143.24h1.8M719 143.24h-1.8M539 141.8h1.8M719 141.8h-1.8M539 140.58h1.8M719 140.58h-1.8M539 139.52h1.8M719 139.52h-1.8M539 138.59h1.8M719 138.59h-1.8M539 156h3.5M719 156h-3.5M539 156v4.2M554 156v2.2M569 156v4.2M584 156v2.2M599 156v4.2M614 156v2.2M629 156v4.2M644 156v2.2M659 156v4.2M674 156v2.2M689 156v4.2M704 156v2.2M719 156v4.2" stroke="#000" stroke-width="1.5" fill="none"/>
<rect x="539" y="10" width="180" height="146" fill="none" stroke="#000" stroke-width="2"/>
<text x="533" y="11.8" font-size="8.2" text-anchor="end" textLength="20.3" lengthAdjust="spacingAndGlyphs">1.0E-3</text>
<text x="533" y="30.05" font-size="8.2" text-anchor="end" textLength="20.3" lengthAdjust="spacingAndGlyphs">1.0E-4</text>
<text x="533" y="48.3" font-size="8.2" text-anchor="end" textLength="20.3" lengthAdjust="spacingAndGlyphs">1.0E-5</text>
<text x="533" y="66.55" font-size="8.2" text-anchor="end" textLength="20.3" lengthAdjust="spacingAndGlyphs">1.0E-6</text>
<text x="533" y="84.8" font-size="8.2" text-anchor="end" textLength="20.3" lengthAdjust="spacingAndGlyphs">1.0E-7</text>
<text x="533" y="103.05" font-size="8.2" text-anchor="end" textLength="20.3" lengthAdjust="spacingAndGlyphs">1.0E-8</text>
<text x="533" y="121.3" font-size="8.2" text-anchor="end" textLength="20.3" lengthAdjust="spacingAndGlyphs">1.0E-9</text>
<text x="533" y="139.55" font-size="8.2" text-anchor="end" textLength="24.1" lengthAdjust="spacingAndGlyphs">1.0E-10</text>
<text x="533" y="157.8" font-size="8.2" text-anchor="end" textLength="24.1" lengthAdjust="spacingAndGlyphs">1.0E-11</text>
<text x="539" y="169.1" font-size="8" text-anchor="middle">-3</text>
<text x="569" y="169.1" font-size="8" text-anchor="middle">-2</text>
<text x="599" y="169.1" font-size="8" text-anchor="middle">-1</text>
<text x="629" y="169.1" font-size="8" text-anchor="middle">0</text>
<text x="659" y="169.1" font-size="8" text-anchor="middle">1</text>
<text x="689" y="169.1" font-size="8" text-anchor="middle">2</text>
<text x="719" y="169.1" font-size="8" text-anchor="middle">3</text>
<text x="629" y="184.9" font-size="9.7" text-anchor="middle" textLength="47.5" lengthAdjust="spacingAndGlyphs">Voltage (V)</text>
<text x="0" y="0" font-size="9.6" text-anchor="middle" textLength="49" lengthAdjust="spacingAndGlyphs" transform="translate(504 81.8) rotate(-90)">Current (A)</text>
<text x="487.3" y="14.2" font-size="18.5" textLength="20.2" lengthAdjust="spacingAndGlyphs">(c)</text>
<rect x="548.7" y="16.7" width="75.1" height="14.5" fill="#000"/>
<rect x="546.2" y="14.2" width="75.1" height="14.5" fill="#fff" stroke="#222" stroke-width="0.9"/>
<text x="547.7" y="23.7" font-size="8.6" textLength="71.7" lengthAdjust="spacingAndGlyphs">CsPbBr<tspan font-size="7" dy="2">3</tspan><tspan dy="-2">/SnO</tspan><tspan font-size="7" dy="2">2</tspan><tspan dy="-2"> (T400)</tspan></text>
<text x="630.7" y="106.7" font-size="8.3" textLength="84" lengthAdjust="spacingAndGlyphs">Power density (mW cm<tspan font-size="5.5" dy="-3">-2</tspan><tspan dy="3">)</tspan></text>
<line x1="638.5" y1="114.2" x2="654.9" y2="114.2" stroke="#1a1a50" stroke-width="1.7"/>
<rect x="644.58" y="112.08" width="4.25" height="4.25" fill="#1a1a50"/>
<text x="657" y="116.6" font-size="7.6">Dark</text>
<line x1="638.5" y1="123.9" x2="654.9" y2="123.9" stroke="#1c1c96" stroke-width="1.7"/>
<circle cx="646.7" cy="123.9" r="2.38" fill="#1c1c96"/>
<text x="657" y="126.3" font-size="7.6">1.2</text>
<line x1="676.5" y1="123.9" x2="693.5" y2="123.9" stroke="#6e1a8c" stroke-width="1.7"/>
<polygon points="685,121.4 687.5,125.9 682.5,125.9" fill="#6e1a8c"/>
<text x="695.3" y="126.3" font-size="7.6">55.5</text>
<line x1="638.5" y1="133.2" x2="654.9" y2="133.2" stroke="#c0143c" stroke-width="1.7"/>
<polygon points="646.7,135.7 649.2,131.2 644.2,131.2" fill="#c0143c"/>
<text x="657" y="135.6" font-size="7.6">302.9</text>
<line x1="676.5" y1="133.2" x2="693.5" y2="133.2" stroke="#ff2a1a" stroke-width="1.7"/>
<polygon points="685,130.45 687.75,133.2 685,135.95 682.25,133.2" fill="#ff2a1a"/>
<text x="695.3" y="135.6" font-size="7.6">775.3</text>
<line x1="638.5" y1="142.4" x2="654.9" y2="142.4" stroke="#ff8c1a" stroke-width="1.7"/>
<polygon points="644.2,142.4 648.7,139.9 648.7,144.9" fill="#ff8c1a"/>
<text x="657" y="144.8" font-size="7.6">1350</text>
<line x1="676.5" y1="142.4" x2="693.5" y2="142.4" stroke="#ffff1a" stroke-width="1.7"/>
<polygon points="687.5,142.4 683,139.9 683,144.9" fill="#ffff1a"/>
<text x="695.3" y="144.8" font-size="7.6">1880</text>
<g clip-path="url(#cd)">
<polyline points="57,249.7 58.51,249.84 60.02,249.98 61.52,250.12 63.03,250.27 64.54,250.42 66.05,250.57 67.56,250.72 69.07,250.88 70.57,251.04 72.08,251.2 73.59,251.37 75.1,251.54 76.61,251.72 78.12,251.89 79.62,252.07 81.13,252.26 82.64,252.45 84.15,252.64 85.66,252.84 87.17,253.05 88.67,253.25 90.18,253.47 91.69,253.69 93.2,253.92 94.71,254.15 96.22,254.39 97.72,254.63 99.23,254.89 100.74,255.15 102.25,255.42 103.76,255.7 105.27,255.99 106.77,256.29 108.28,256.6 109.79,256.92 111.3,257.26 112.81,257.61 114.32,257.98 115.83,258.36 117.33,258.77 118.84,259.19 120.35,259.63 121.86,260.11 123.37,260.61 124.88,261.14 126.38,261.71 127.89,262.32 129.4,262.98 130.91,263.7 132.42,264.48 133.93,265.35 135.43,266.33 136.94,267.43 138.45,268.7 139.96,270.2 141.47,272.05 142.98,274.42 144.48,277.77 145.99,283.48 147.5,328.6 149.01,283.08 150.52,277.37 152.03,274.02 153.53,271.65 155.04,269.8 156.55,268.3 158.06,267.03 159.57,265.93 161.08,264.95 162.58,264.08 164.09,263.3 165.6,262.58 167.11,261.92 168.62,261.31 170.12,260.74 171.63,260.21 173.14,259.71 174.65,259.23 176.16,258.79 177.67,258.37 179.17,257.96 180.68,257.58 182.19,257.21 183.7,256.86 185.21,256.52 186.72,256.2 188.22,255.89 189.73,255.59 191.24,255.3 192.75,255.02 194.26,254.75 195.77,254.49 197.28,254.23 198.78,253.99 200.29,253.75 201.8,253.52 203.31,253.29 204.82,253.07 206.33,252.85 207.83,252.65 209.34,252.44 210.85,252.24 212.36,252.05 213.87,251.86 215.38,251.67 216.88,251.49 218.39,251.32 219.9,251.14 221.41,250.97 222.92,250.8 224.43,250.64 225.93,250.48 227.44,250.32 228.95,250.17 230.46,250.02 231.97,249.87 233.47,249.72 234.98,249.58 236.49,249.44 238,249.3" fill="none" stroke="#1e1b7b" stroke-width="1" marker-start="url(#m0)" marker-mid="url(#m0)" marker-end="url(#m0)"/>
<polyline points="57,249.5 58.51,249.64 60.02,249.78 61.52,249.92 63.03,250.07 64.54,250.22 66.05,250.37 67.56,250.52 69.07,250.68 70.57,250.84 72.08,251 73.59,251.17 75.1,251.34 76.61,251.52 78.12,251.69 79.62,251.87 81.13,252.06 82.64,252.25 84.15,252.44 85.66,252.64 87.17,252.85 88.67,253.05 90.18,253.27 91.69,253.49 93.2,253.72 94.71,253.95 96.22,254.19 97.72,254.43 99.23,254.69 100.74,254.95 102.25,255.22 103.76,255.5 105.27,255.79 106.77,256.09 108.28,256.4 109.79,256.72 111.3,257.06 112.81,257.41 114.32,257.78 115.83,258.16 117.33,258.57 118.84,258.99 120.35,259.43 121.86,259.91 123.37,260.41 124.88,260.94 126.38,261.51 127.89,262.12 129.4,262.78 130.91,263.5 132.42,264.28 133.93,265.15 135.43,266.13 136.94,267.23 138.45,268.5 139.96,270 141.47,271.85 142.98,274.22 144.48,277.57 145.99,283.28 147.5,321.1 149.01,282.88 150.52,277.17 152.03,273.82 153.53,271.45 155.04,269.6 156.55,268.1 158.06,266.83 159.57,265.73 161.08,264.75 162.58,263.88 164.09,263.1 165.6,262.38 167.11,261.72 168.62,261.11 170.12,260.54 171.63,260.01 173.14,259.51 174.65,259.03 176.16,258.59 177.67,258.17 179.17,257.76 180.68,257.38 182.19,257.01 183.7,256.66 185.21,256.32 186.72,256 188.22,255.69 189.73,255.39 191.24,255.1 192.75,254.82 194.26,254.55 195.77,254.29 197.28,254.03 198.78,253.79 200.29,253.55 201.8,253.32 203.31,253.09 204.82,252.87 206.33,252.65 207.83,252.45 209.34,252.24 210.85,252.04 212.36,251.85 213.87,251.66 215.38,251.47 216.88,251.29 218.39,251.12 219.9,250.94 221.41,250.77 222.92,250.6 224.43,250.44 225.93,250.28 227.44,250.12 228.95,249.97 230.46,249.82 231.97,249.67 233.47,249.52 234.98,249.38 236.49,249.24 238,249.1" fill="none" stroke="#2c10a8" stroke-width="1" marker-start="url(#m1)" marker-mid="url(#m1)" marker-end="url(#m1)"/>
<polyline points="57,234.2 58.51,234.34 60.02,234.48 61.52,234.62 63.03,234.77 64.54,234.92 66.05,235.07 67.56,235.22 69.07,235.38 70.57,235.54 72.08,235.7 73.59,235.87 75.1,236.04 76.61,236.22 78.12,236.39 79.62,236.57 81.13,236.76 82.64,236.95 84.15,237.14 85.66,237.34 87.17,237.55 88.67,237.75 90.18,237.97 91.69,238.19 93.2,238.42 94.71,238.65 96.22,238.89 97.72,239.13 99.23,239.39 100.74,239.65 102.25,239.92 103.76,240.2 105.27,240.49 106.77,240.79 108.28,241.1 109.79,241.42 111.3,241.76 112.81,242.11 114.32,242.48 115.83,242.86 117.33,243.27 118.84,243.69 120.35,244.13 121.86,244.61 123.37,245.11 124.88,245.64 126.38,246.21 127.89,246.82 129.4,247.48 130.91,248.2 132.42,248.98 133.93,249.85 135.43,250.83 136.94,251.93 138.45,253.2 139.96,254.7 141.47,256.55 142.98,258.92 144.48,262.27 145.99,267.98 147.5,300 149.01,265.28 150.52,259.57 152.03,256.22 153.53,253.85 155.04,252 156.55,250.5 158.06,249.23 159.57,248.13 161.08,247.15 162.58,246.28 164.09,245.5 165.6,244.78 167.11,244.12 168.62,243.51 170.12,242.94 171.63,242.41 173.14,241.91 174.65,241.43 176.16,240.99 177.67,240.57 179.17,240.16 180.68,239.78 182.19,239.41 183.7,239.06 185.21,238.72 186.72,238.4 188.22,238.09 189.73,237.79 191.24,237.5 192.75,237.22 194.26,236.95 195.77,236.69 197.28,236.43 198.78,236.19 200.29,235.95 201.8,235.72 203.31,235.49 204.82,235.27 206.33,235.05 207.83,234.85 209.34,234.64 210.85,234.44 212.36,234.25 213.87,234.06 215.38,233.87 216.88,233.69 218.39,233.52 219.9,233.34 221.41,233.17 222.92,233 224.43,232.84 225.93,232.68 227.44,232.52 228.95,232.37 230.46,232.22 231.97,232.07 233.47,231.92 234.98,231.78 236.49,231.64 238,231.5" fill="none" stroke="#9a10ac" stroke-width="1" marker-start="url(#m2)" marker-mid="url(#m2)" marker-end="url(#m2)"/>
<polyline points="57,229.5 58.51,229.64 60.02,229.78 61.52,229.92 63.03,230.07 64.54,230.22 66.05,230.37 67.56,230.52 69.07,230.68 70.57,230.84 72.08,231 73.59,231.17 75.1,231.34 76.61,231.52 78.12,231.69 79.62,231.87 81.13,232.06 82.64,232.25 84.15,232.44 85.66,232.64 87.17,232.85 88.67,233.05 90.18,233.27 91.69,233.49 93.2,233.72 94.71,233.95 96.22,234.19 97.72,234.43 99.23,234.69 100.74,234.95 102.25,235.22 103.76,235.5 105.27,235.79 106.77,236.09 108.28,236.4 109.79,236.72 111.3,237.06 112.81,237.41 114.32,237.78 115.83,238.16 117.33,238.57 118.84,238.99 120.35,239.43 121.86,239.91 123.37,240.41 124.88,240.94 126.38,241.51 127.89,242.12 129.4,242.78 130.91,243.5 132.42,244.28 133.93,245.15 135.43,246.13 136.94,247.23 138.45,248.5 139.96,250 141.47,251.85 142.98,254.22 144.48,257.57 145.99,263.28 147.5,299 149.01,262.08 150.52,256.37 152.03,253.02 153.53,250.65 155.04,248.8 156.55,247.3 158.06,246.03 159.57,244.93 161.08,243.95 162.58,243.08 164.09,242.3 165.6,241.58 167.11,240.92 168.62,240.31 170.12,239.74 171.63,239.21 173.14,238.71 174.65,238.23 176.16,237.79 177.67,237.37 179.17,236.96 180.68,236.58 182.19,236.21 183.7,235.86 185.21,235.52 186.72,235.2 188.22,234.89 189.73,234.59 191.24,234.3 192.75,234.02 194.26,233.75 195.77,233.49 197.28,233.23 198.78,232.99 200.29,232.75 201.8,232.52 203.31,232.29 204.82,232.07 206.33,231.85 207.83,231.65 209.34,231.44 210.85,231.24 212.36,231.05 213.87,230.86 215.38,230.67 216.88,230.49 218.39,230.32 219.9,230.14 221.41,229.97 222.92,229.8 224.43,229.64 225.93,229.48 227.44,229.32 228.95,229.17 230.46,229.02 231.97,228.87 233.47,228.72 234.98,228.58 236.49,228.44 238,228.3" fill="none" stroke="#c81a5a" stroke-width="1" marker-start="url(#m3)" marker-mid="url(#m3)" marker-end="url(#m3)"/>
<polyline points="57,226.5 58.51,226.64 60.02,226.78 61.52,226.92 63.03,227.07 64.54,227.22 66.05,227.37 67.56,227.52 69.07,227.68 70.57,227.84 72.08,228 73.59,228.17 75.1,228.34 76.61,228.52 78.12,228.69 79.62,228.87 81.13,229.06 82.64,229.25 84.15,229.44 85.66,229.64 87.17,229.85 88.67,230.05 90.18,230.27 91.69,230.49 93.2,230.72 94.71,230.95 96.22,231.19 97.72,231.43 99.23,231.69 100.74,231.95 102.25,232.22 103.76,232.5 105.27,232.79 106.77,233.09 108.28,233.4 109.79,233.72 111.3,234.06 112.81,234.41 114.32,234.78 115.83,235.16 117.33,235.57 118.84,235.99 120.35,236.43 121.86,236.91 123.37,237.41 124.88,237.94 126.38,238.51 127.89,239.12 129.4,239.78 130.91,240.5 132.42,241.28 133.93,242.15 135.43,243.13 136.94,244.23 138.45,245.5 139.96,247 141.47,248.85 142.98,251.22 144.48,254.57 145.99,260.28 147.5,297 149.01,260.78 150.52,255.07 152.03,251.72 153.53,249.35 155.04,247.5 156.55,246 158.06,244.73 159.57,243.63 161.08,242.65 162.58,241.78 164.09,241 165.6,240.28 167.11,239.62 168.62,239.01 170.12,238.44 171.63,237.91 173.14,237.41 174.65,236.93 176.16,236.49 177.67,236.07 179.17,235.66 180.68,235.28 182.19,234.91 183.7,234.56 185.21,234.22 186.72,233.9 188.22,233.59 189.73,233.29 191.24,233 192.75,232.72 194.26,232.45 195.77,232.19 197.28,231.93 198.78,231.69 200.29,231.45 201.8,231.22 203.31,230.99 204.82,230.77 206.33,230.55 207.83,230.35 209.34,230.14 210.85,229.94 212.36,229.75 213.87,229.56 215.38,229.37 216.88,229.19 218.39,229.02 219.9,228.84 221.41,228.67 222.92,228.5 224.43,228.34 225.93,228.18 227.44,228.02 228.95,227.87 230.46,227.72 231.97,227.57 233.47,227.42 234.98,227.28 236.49,227.14 238,227" fill="none" stroke="#ec4060" stroke-width="1" marker-start="url(#m4)" marker-mid="url(#m4)" marker-end="url(#m4)"/>
<polyline points="57,224 58.51,224.14 60.02,224.28 61.52,224.42 63.03,224.57 64.54,224.72 66.05,224.87 67.56,225.02 69.07,225.18 70.57,225.34 72.08,225.5 73.59,225.67 75.1,225.84 76.61,226.02 78.12,226.19 79.62,226.37 81.13,226.56 82.64,226.75 84.15,226.94 85.66,227.14 87.17,227.35 88.67,227.55 90.18,227.77 91.69,227.99 93.2,228.22 94.71,228.45 96.22,228.69 97.72,228.93 99.23,229.19 100.74,229.45 102.25,229.72 103.76,230 105.27,230.29 106.77,230.59 108.28,230.9 109.79,231.22 111.3,231.56 112.81,231.91 114.32,232.28 115.83,232.66 117.33,233.07 118.84,233.49 120.35,233.93 121.86,234.41 123.37,234.91 124.88,235.44 126.38,236.01 127.89,236.62 129.4,237.28 130.91,238 132.42,238.78 133.93,239.65 135.43,240.63 136.94,241.73 138.45,243 139.96,244.5 141.47,246.35 142.98,248.72 144.48,252.07 145.99,257.78 147.5,305 149.01,258.78 150.52,253.07 152.03,249.72 153.53,247.35 155.04,245.5 156.55,244 158.06,242.73 159.57,241.63 161.08,240.65 162.58,239.78 164.09,239 165.6,238.28 167.11,237.62 168.62,237.01 170.12,236.44 171.63,235.91 173.14,235.41 174.65,234.93 176.16,234.49 177.67,234.07 179.17,233.66 180.68,233.28 182.19,232.91 183.7,232.56 185.21,232.22 186.72,231.9 188.22,231.59 189.73,231.29 191.24,231 192.75,230.72 194.26,230.45 195.77,230.19 197.28,229.93 198.78,229.69 200.29,229.45 201.8,229.22 203.31,228.99 204.82,228.77 206.33,228.55 207.83,228.35 209.34,228.14 210.85,227.94 212.36,227.75 213.87,227.56 215.38,227.37 216.88,227.19 218.39,227.02 219.9,226.84 221.41,226.67 222.92,226.5 224.43,226.34 225.93,226.18 227.44,226.02 228.95,225.87 230.46,225.72 231.97,225.57 233.47,225.42 234.98,225.28 236.49,225.14 238,225" fill="none" stroke="#ff9a30" stroke-width="1" marker-start="url(#m5)" marker-mid="url(#m5)" marker-end="url(#m5)"/>
<polyline points="57,222.7 58.51,222.84 60.02,222.98 61.52,223.12 63.03,223.27 64.54,223.42 66.05,223.57 67.56,223.72 69.07,223.88 70.57,224.04 72.08,224.2 73.59,224.37 75.1,224.54 76.61,224.72 78.12,224.89 79.62,225.07 81.13,225.26 82.64,225.45 84.15,225.64 85.66,225.84 87.17,226.05 88.67,226.25 90.18,226.47 91.69,226.69 93.2,226.92 94.71,227.15 96.22,227.39 97.72,227.63 99.23,227.89 100.74,228.15 102.25,228.42 103.76,228.7 105.27,228.99 106.77,229.29 108.28,229.6 109.79,229.92 111.3,230.26 112.81,230.61 114.32,230.98 115.83,231.36 117.33,231.77 118.84,232.19 120.35,232.63 121.86,233.11 123.37,233.61 124.88,234.14 126.38,234.71 127.89,235.32 129.4,235.98 130.91,236.7 132.42,237.48 133.93,238.35 135.43,239.33 136.94,240.43 138.45,241.7 139.96,243.2 141.47,245.05 142.98,247.42 144.48,250.77 145.99,256.48 147.5,313.3 149.01,257.28 150.52,251.57 152.03,248.22 153.53,245.85 155.04,244 156.55,242.5 158.06,241.23 159.57,240.13 161.08,239.15 162.58,238.28 164.09,237.5 165.6,236.78 167.11,236.12 168.62,235.51 170.12,234.94 171.63,234.41 173.14,233.91 174.65,233.43 176.16,232.99 177.67,232.57 179.17,232.16 180.68,231.78 182.19,231.41 183.7,231.06 185.21,230.72 186.72,230.4 188.22,230.09 189.73,229.79 191.24,229.5 192.75,229.22 194.26,228.95 195.77,228.69 197.28,228.43 198.78,228.19 200.29,227.95 201.8,227.72 203.31,227.49 204.82,227.27 206.33,227.05 207.83,226.85 209.34,226.64 210.85,226.44 212.36,226.25 213.87,226.06 215.38,225.87 216.88,225.69 218.39,225.52 219.9,225.34 221.41,225.17 222.92,225 224.43,224.84 225.93,224.68 227.44,224.52 228.95,224.37 230.46,224.22 231.97,224.07 233.47,223.92 234.98,223.78 236.49,223.64 238,223.5" fill="none" stroke="#ffff14" stroke-width="1" marker-start="url(#m6)" marker-mid="url(#m6)" marker-end="url(#m6)"/>
</g>
<path d="M57 208.5h3.5M238 208.5h-3.5M57 221.21h1.8M238 221.21h-1.8M57 218.01h1.8M238 218.01h-1.8M57 215.74h1.8M238 215.74h-1.8M57 213.97h1.8M238 213.97h-1.8M57 212.53h1.8M238 212.53h-1.8M57 211.32h1.8M238 211.32h-1.8M57 210.26h1.8M238 210.26h-1.8M57 209.33h1.8M238 209.33h-1.8M57 226.69h3.5M238 226.69h-3.5M57 239.4h1.8M238 239.4h-1.8M57 236.2h1.8M238 236.2h-1.8M57 233.93h1.8M238 233.93h-1.8M57 232.16h1.8M238 232.16h-1.8M57 230.72h1.8M238 230.72h-1.8M57 229.5h1.8M238 229.5h-1.8M57 228.45h1.8M238 228.45h-1.8M57 227.52h1.8M238 227.52h-1.8M57 244.88h3.5M238 244.88h-3.5M57 257.59h1.8M238 257.59h-1.8M57 254.38h1.8M238 254.38h-1.8M57 252.11h1.8M238 252.11h-1.8M57 250.35h1.8M238 250.35h-1.8M57 248.91h1.8M238 248.91h-1.8M57 247.69h1.8M238 247.69h-1.8M57 246.64h1.8M238 246.64h-1.8M57 245.71h1.8M238 245.71h-1.8M57 263.06h3.5M238 263.06h-3.5M57 275.78h1.8M238 275.78h-1.8M57 272.57h1.8M238 272.57h-1.8M57 270.3h1.8M238 270.3h-1.8M57 268.54h1.8M238 268.54h-1.8M57 267.1h1.8M238 267.1h-1.8M57 265.88h1.8M238 265.88h-1.8M57 264.83h1.8M238 264.83h-1.8M57 263.89h1.8M238 263.89h-1.8M57 281.25h3.5M238 281.25h-3.5M57 293.96h1.8M238 293.96h-1.8M57 290.76h1.8M238 290.76h-1.8M57 288.49h1.8M238 288.49h-1.8M57 286.72h1.8M238 286.72h-1.8M57 285.28h1.8M238 285.28h-1.8M57 284.07h1.8M238 284.07h-1.8M57 283.01h1.8M238 283.01h-1.8M57 282.08h1.8M238 282.08h-1.8M57 299.44h3.5M238 299.44h-3.5M57 312.15h1.8M238 312.15h-1.8M57 308.95h1.8M238 308.95h-1.8M57 306.68h1.8M238 306.68h-1.8M57 304.91h1.8M238 304.91h-1.8M57 303.47h1.8M238 303.47h-1.8M57 302.25h1.8M238 302.25h-1.8M57 301.2h1.8M238 301.2h-1.8M57 300.27h1.8M238 300.27h-1.8M57 317.62h3.5M238 317.62h-3.5M57 330.34h1.8M238 330.34h-1.8M57 327.13h1.8M238 327.13h-1.8M57 324.86h1.8M238 324.86h-1.8M57 323.1h1.8M238 323.1h-1.8M57 321.66h1.8M238 321.66h-1.8M57 320.44h1.8M238 320.44h-1.8M57 319.39h1.8M238 319.39h-1.8M57 318.46h1.8M238 318.46h-1.8M57 335.81h3.5M238 335.81h-3.5M57 348.53h1.8M238 348.53h-1.8M57 345.32h1.8M238 345.32h-1.8M57 343.05h1.8M238 343.05h-1.8M57 341.29h1.8M238 341.29h-1.8M57 339.85h1.8M238 339.85h-1.8M57 338.63h1.8M238 338.63h-1.8M57 337.58h1.8M238 337.58h-1.8M57 336.64h1.8M238 336.64h-1.8M57 354h3.5M238 354h-3.5M57 354v4.2M72.08 354v2.2M87.17 354v4.2M102.25 354v2.2M117.33 354v4.2M132.42 354v2.2M147.5 354v4.2M162.58 354v2.2M177.67 354v4.2M192.75 354v2.2M207.83 354v4.2M222.92 354v2.2M238 354v4.2" stroke="#000" stroke-width="1.5" fill="none"/>
<rect x="57" y="208.5" width="181" height="145.5" fill="none" stroke="#000" stroke-width="2"/>
<text x="51.3" y="210.3" font-size="8.2" text-anchor="end" textLength="20.3" lengthAdjust="spacingAndGlyphs">1.0E-3</text>
<text x="51.3" y="228.49" font-size="8.2" text-anchor="end" textLength="20.3" lengthAdjust="spacingAndGlyphs">1.0E-4</text>
<text x="51.3" y="246.68" font-size="8.2" text-anchor="end" textLength="20.3" lengthAdjust="spacingAndGlyphs">1.0E-5</text>
<text x="51.3" y="264.86" font-size="8.2" text-anchor="end" textLength="20.3" lengthAdjust="spacingAndGlyphs">1.0E-6</text>
<text x="51.3" y="283.05" font-size="8.2" text-anchor="end" textLength="20.3" lengthAdjust="spacingAndGlyphs">1.0E-7</text>
<text x="51.3" y="301.24" font-size="8.2" text-anchor="end" textLength="20.3" lengthAdjust="spacingAndGlyphs">1.0E-8</text>
<text x="51.3" y="319.43" font-size="8.2" text-anchor="end" textLength="20.3" lengthAdjust="spacingAndGlyphs">1.0E-9</text>
<text x="51.3" y="337.61" font-size="8.2" text-anchor="end" textLength="24.1" lengthAdjust="spacingAndGlyphs">1.0E-10</text>
<text x="51.3" y="355.8" font-size="8.2" text-anchor="end" textLength="24.1" lengthAdjust="spacingAndGlyphs">1.0E-11</text>
<text x="57" y="367.8" font-size="8" text-anchor="middle">-3</text>
<text x="87.17" y="367.8" font-size="8" text-anchor="middle">-2</text>
<text x="117.33" y="367.8" font-size="8" text-anchor="middle">-1</text>
<text x="147.5" y="367.8" font-size="8" text-anchor="middle">0</text>
<text x="177.67" y="367.8" font-size="8" text-anchor="middle">1</text>
<text x="207.83" y="367.8" font-size="8" text-anchor="middle">2</text>
<text x="238" y="367.8" font-size="8" text-anchor="middle">3</text>
<text x="147" y="382.8" font-size="9.7" text-anchor="middle" textLength="47.5" lengthAdjust="spacingAndGlyphs">Voltage (V)</text>
<text x="0" y="0" font-size="9.6" text-anchor="middle" textLength="49" lengthAdjust="spacingAndGlyphs" transform="translate(23 280.3) rotate(-90)">Current (A)</text>
<text x="1.9" y="210.5" font-size="18.5" textLength="22.5" lengthAdjust="spacingAndGlyphs">(d)</text>
<rect x="67.7" y="212.2" width="75.3" height="14.8" fill="#000"/>
<rect x="65.2" y="209.7" width="75.3" height="14.8" fill="#fff" stroke="#222" stroke-width="0.9"/>
<text x="66.4" y="219.7" font-size="8.6" textLength="72.9" lengthAdjust="spacingAndGlyphs">CsPbBr<tspan font-size="7" dy="2">3</tspan><tspan dy="-2">/SnO</tspan><tspan font-size="7" dy="2">2</tspan><tspan dy="-2"> (T500)</tspan></text>
<text x="150.8" y="304.7" font-size="8.3" textLength="83.4" lengthAdjust="spacingAndGlyphs">Power density (mW cm<tspan font-size="5.5" dy="-3">-2</tspan><tspan dy="3">)</tspan></text>
<line x1="157.2" y1="313.1" x2="173.6" y2="313.1" stroke="#1a1a50" stroke-width="1.7"/>
<rect x="163.27" y="310.98" width="4.25" height="4.25" fill="#1a1a50"/>
<text x="176" y="315.5" font-size="7.6">Dark</text>
<line x1="157.2" y1="322.5" x2="173.6" y2="322.5" stroke="#1c1c96" stroke-width="1.7"/>
<circle cx="165.4" cy="322.5" r="2.38" fill="#1c1c96"/>
<text x="176" y="324.9" font-size="7.6">1.2</text>
<line x1="195.3" y1="322.5" x2="212.3" y2="322.5" stroke="#6e1a8c" stroke-width="1.7"/>
<polygon points="203.8,320 206.3,324.5 201.3,324.5" fill="#6e1a8c"/>
<text x="214" y="324.9" font-size="7.6">55.5</text>
<line x1="157.2" y1="332" x2="173.6" y2="332" stroke="#c0143c" stroke-width="1.7"/>
<polygon points="165.4,334.5 167.9,330 162.9,330" fill="#c0143c"/>
<text x="176" y="334.4" font-size="7.6">302.9</text>
<line x1="195.3" y1="332" x2="212.3" y2="332" stroke="#ff2a1a" stroke-width="1.7"/>
<polygon points="203.8,329.25 206.55,332 203.8,334.75 201.05,332" fill="#ff2a1a"/>
<text x="214" y="334.4" font-size="7.6">775.3</text>
<line x1="157.2" y1="341.3" x2="173.6" y2="341.3" stroke="#ff8c1a" stroke-width="1.7"/>
<polygon points="162.9,341.3 167.4,338.8 167.4,343.8" fill="#ff8c1a"/>
<text x="176" y="343.7" font-size="7.6">1350</text>
<line x1="195.3" y1="341.3" x2="212.3" y2="341.3" stroke="#ffff1a" stroke-width="1.7"/>
<polygon points="206.3,341.3 201.8,338.8 201.8,343.8" fill="#ffff1a"/>
<text x="214" y="343.7" font-size="7.6">1880</text>
<g clip-path="url(#ce)">
<polyline points="299,243.9 300.51,244.04 302.02,244.18 303.52,244.32 305.03,244.47 306.54,244.62 308.05,244.77 309.56,244.92 311.07,245.08 312.57,245.24 314.08,245.4 315.59,245.57 317.1,245.74 318.61,245.92 320.12,246.09 321.62,246.27 323.13,246.46 324.64,246.65 326.15,246.84 327.66,247.04 329.17,247.25 330.68,247.45 332.18,247.67 333.69,247.89 335.2,248.12 336.71,248.35 338.22,248.59 339.73,248.83 341.23,249.09 342.74,249.35 344.25,249.62 345.76,249.9 347.27,250.19 348.77,250.49 350.28,250.8 351.79,251.12 353.3,251.46 354.81,251.81 356.32,252.18 357.82,252.56 359.33,252.97 360.84,253.39 362.35,253.83 363.86,254.31 365.37,254.81 366.88,255.34 368.38,255.91 369.89,256.52 371.4,257.18 372.91,257.9 374.42,258.68 375.93,259.55 377.43,260.53 378.94,261.63 380.45,262.9 381.96,264.4 383.47,266.25 384.98,268.62 386.48,271.97 387.99,277.68 389.5,326.1 391.01,276.28 392.52,270.57 394.02,267.22 395.53,264.85 397.04,263 398.55,261.5 400.06,260.23 401.57,259.13 403.08,258.15 404.58,257.28 406.09,256.5 407.6,255.78 409.11,255.12 410.62,254.51 412.12,253.94 413.63,253.41 415.14,252.91 416.65,252.43 418.16,251.99 419.67,251.57 421.17,251.16 422.68,250.78 424.19,250.41 425.7,250.06 427.21,249.72 428.72,249.4 430.23,249.09 431.73,248.79 433.24,248.5 434.75,248.22 436.26,247.95 437.77,247.69 439.27,247.43 440.78,247.19 442.29,246.95 443.8,246.72 445.31,246.49 446.82,246.27 448.33,246.05 449.83,245.85 451.34,245.64 452.85,245.44 454.36,245.25 455.87,245.06 457.38,244.87 458.88,244.69 460.39,244.52 461.9,244.34 463.41,244.17 464.92,244 466.43,243.84 467.93,243.68 469.44,243.52 470.95,243.37 472.46,243.22 473.97,243.07 475.48,242.92 476.98,242.78 478.49,242.64 480,242.5" fill="none" stroke="#1e1b7b" stroke-width="1" marker-start="url(#m0)" marker-mid="url(#m0)" marker-end="url(#m0)"/>
<polyline points="299,243 300.51,243.14 302.02,243.28 303.52,243.42 305.03,243.57 306.54,243.72 308.05,243.87 309.56,244.02 311.07,244.18 312.57,244.34 314.08,244.5 315.59,244.67 317.1,244.84 318.61,245.02 320.12,245.19 321.62,245.37 323.13,245.56 324.64,245.75 326.15,245.94 327.66,246.14 329.17,246.35 330.68,246.55 332.18,246.77 333.69,246.99 335.2,247.22 336.71,247.45 338.22,247.69 339.73,247.93 341.23,248.19 342.74,248.45 344.25,248.72 345.76,249 347.27,249.29 348.77,249.59 350.28,249.9 351.79,250.22 353.3,250.56 354.81,250.91 356.32,251.28 357.82,251.66 359.33,252.07 360.84,252.49 362.35,252.93 363.86,253.41 365.37,253.91 366.88,254.44 368.38,255.01 369.89,255.62 371.4,256.28 372.91,257 374.42,257.78 375.93,258.65 377.43,259.63 378.94,260.73 380.45,262 381.96,263.5 383.47,265.35 384.98,267.72 386.48,271.07 387.99,276.78 389.5,322.2 391.01,275.58 392.52,269.87 394.02,266.52 395.53,264.15 397.04,262.3 398.55,260.8 400.06,259.53 401.57,258.43 403.08,257.45 404.58,256.58 406.09,255.8 407.6,255.08 409.11,254.42 410.62,253.81 412.12,253.24 413.63,252.71 415.14,252.21 416.65,251.73 418.16,251.29 419.67,250.87 421.17,250.46 422.68,250.08 424.19,249.71 425.7,249.36 427.21,249.02 428.72,248.7 430.23,248.39 431.73,248.09 433.24,247.8 434.75,247.52 436.26,247.25 437.77,246.99 439.27,246.73 440.78,246.49 442.29,246.25 443.8,246.02 445.31,245.79 446.82,245.57 448.33,245.35 449.83,245.15 451.34,244.94 452.85,244.74 454.36,244.55 455.87,244.36 457.38,244.17 458.88,243.99 460.39,243.82 461.9,243.64 463.41,243.47 464.92,243.3 466.43,243.14 467.93,242.98 469.44,242.82 470.95,242.67 472.46,242.52 473.97,242.37 475.48,242.22 476.98,242.08 478.49,241.94 480,241.8" fill="none" stroke="#2c10a8" stroke-width="1" marker-start="url(#m1)" marker-mid="url(#m1)" marker-end="url(#m1)"/>
<polyline points="299,242 300.51,242.14 302.02,242.28 303.52,242.42 305.03,242.57 306.54,242.72 308.05,242.87 309.56,243.02 311.07,243.18 312.57,243.34 314.08,243.5 315.59,243.67 317.1,243.84 318.61,244.02 320.12,244.19 321.62,244.37 323.13,244.56 324.64,244.75 326.15,244.94 327.66,245.14 329.17,245.35 330.68,245.55 332.18,245.77 333.69,245.99 335.2,246.22 336.71,246.45 338.22,246.69 339.73,246.93 341.23,247.19 342.74,247.45 344.25,247.72 345.76,248 347.27,248.29 348.77,248.59 350.28,248.9 351.79,249.22 353.3,249.56 354.81,249.91 356.32,250.28 357.82,250.66 359.33,251.07 360.84,251.49 362.35,251.93 363.86,252.41 365.37,252.91 366.88,253.44 368.38,254.01 369.89,254.62 371.4,255.28 372.91,256 374.42,256.78 375.93,257.65 377.43,258.63 378.94,259.73 380.45,261 381.96,262.5 383.47,264.35 384.98,266.72 386.48,270.07 387.99,275.78 389.5,300 391.01,274.58 392.52,268.87 394.02,265.52 395.53,263.15 397.04,261.3 398.55,259.8 400.06,258.53 401.57,257.43 403.08,256.45 404.58,255.58 406.09,254.8 407.6,254.08 409.11,253.42 410.62,252.81 412.12,252.24 413.63,251.71 415.14,251.21 416.65,250.73 418.16,250.29 419.67,249.87 421.17,249.46 422.68,249.08 424.19,248.71 425.7,248.36 427.21,248.02 428.72,247.7 430.23,247.39 431.73,247.09 433.24,246.8 434.75,246.52 436.26,246.25 437.77,245.99 439.27,245.73 440.78,245.49 442.29,245.25 443.8,245.02 445.31,244.79 446.82,244.57 448.33,244.35 449.83,244.15 451.34,243.94 452.85,243.74 454.36,243.55 455.87,243.36 457.38,243.17 458.88,242.99 460.39,242.82 461.9,242.64 463.41,242.47 464.92,242.3 466.43,242.14 467.93,241.98 469.44,241.82 470.95,241.67 472.46,241.52 473.97,241.37 475.48,241.22 476.98,241.08 478.49,240.94 480,240.8" fill="none" stroke="#9a10ac" stroke-width="1" marker-start="url(#m2)" marker-mid="url(#m2)" marker-end="url(#m2)"/>
<polyline points="299,240.4 300.51,240.54 302.02,240.68 303.52,240.82 305.03,240.97 306.54,241.12 308.05,241.27 309.56,241.42 311.07,241.58 312.57,241.74 314.08,241.9 315.59,242.07 317.1,242.24 318.61,242.42 320.12,242.59 321.62,242.77 323.13,242.96 324.64,243.15 326.15,243.34 327.66,243.54 329.17,243.75 330.68,243.95 332.18,244.17 333.69,244.39 335.2,244.62 336.71,244.85 338.22,245.09 339.73,245.33 341.23,245.59 342.74,245.85 344.25,246.12 345.76,246.4 347.27,246.69 348.77,246.99 350.28,247.3 351.79,247.62 353.3,247.96 354.81,248.31 356.32,248.68 357.82,249.06 359.33,249.47 360.84,249.89 362.35,250.33 363.86,250.81 365.37,251.31 366.88,251.84 368.38,252.41 369.89,253.02 371.4,253.68 372.91,254.4 374.42,255.18 375.93,256.05 377.43,257.03 378.94,258.13 380.45,259.4 381.96,260.9 383.47,262.75 384.98,265.12 386.48,268.47 387.99,274.18 389.5,290 391.01,273.08 392.52,267.37 394.02,264.02 395.53,261.65 397.04,259.8 398.55,258.3 400.06,257.03 401.57,255.93 403.08,254.95 404.58,254.08 406.09,253.3 407.6,252.58 409.11,251.92 410.62,251.31 412.12,250.74 413.63,250.21 415.14,249.71 416.65,249.23 418.16,248.79 419.67,248.37 421.17,247.96 422.68,247.58 424.19,247.21 425.7,246.86 427.21,246.52 428.72,246.2 430.23,245.89 431.73,245.59 433.24,245.3 434.75,245.02 436.26,244.75 437.77,244.49 439.27,244.23 440.78,243.99 442.29,243.75 443.8,243.52 445.31,243.29 446.82,243.07 448.33,242.85 449.83,242.65 451.34,242.44 452.85,242.24 454.36,242.05 455.87,241.86 457.38,241.67 458.88,241.49 460.39,241.32 461.9,241.14 463.41,240.97 464.92,240.8 466.43,240.64 467.93,240.48 469.44,240.32 470.95,240.17 472.46,240.02 473.97,239.87 475.48,239.72 476.98,239.58 478.49,239.44 480,239.3" fill="none" stroke="#c81a5a" stroke-width="1" marker-start="url(#m3)" marker-mid="url(#m3)" marker-end="url(#m3)"/>
<polyline points="299,233.4 300.51,233.54 302.02,233.68 303.52,233.82 305.03,233.97 306.54,234.12 308.05,234.27 309.56,234.42 311.07,234.58 312.57,234.74 314.08,234.9 315.59,235.07 317.1,235.24 318.61,235.42 320.12,235.59 321.62,235.77 323.13,235.96 324.64,236.15 326.15,236.34 327.66,236.54 329.17,236.75 330.68,236.95 332.18,237.17 333.69,237.39 335.2,237.62 336.71,237.85 338.22,238.09 339.73,238.33 341.23,238.59 342.74,238.85 344.25,239.12 345.76,239.4 347.27,239.69 348.77,239.99 350.28,240.3 351.79,240.62 353.3,240.96 354.81,241.31 356.32,241.68 357.82,242.06 359.33,242.47 360.84,242.89 362.35,243.33 363.86,243.81 365.37,244.31 366.88,244.84 368.38,245.41 369.89,246.02 371.4,246.68 372.91,247.4 374.42,248.18 375.93,249.05 377.43,250.03 378.94,251.13 380.45,252.4 381.96,253.9 383.47,255.75 384.98,258.12 386.48,261.47 387.99,267.18 389.5,287 391.01,266.48 392.52,260.77 394.02,257.42 395.53,255.05 397.04,253.2 398.55,251.7 400.06,250.43 401.57,249.33 403.08,248.35 404.58,247.48 406.09,246.7 407.6,245.98 409.11,245.32 410.62,244.71 412.12,244.14 413.63,243.61 415.14,243.11 416.65,242.63 418.16,242.19 419.67,241.77 421.17,241.36 422.68,240.98 424.19,240.61 425.7,240.26 427.21,239.92 428.72,239.6 430.23,239.29 431.73,238.99 433.24,238.7 434.75,238.42 436.26,238.15 437.77,237.89 439.27,237.63 440.78,237.39 442.29,237.15 443.8,236.92 445.31,236.69 446.82,236.47 448.33,236.25 449.83,236.05 451.34,235.84 452.85,235.64 454.36,235.45 455.87,235.26 457.38,235.07 458.88,234.89 460.39,234.72 461.9,234.54 463.41,234.37 464.92,234.2 466.43,234.04 467.93,233.88 469.44,233.72 470.95,233.57 472.46,233.42 473.97,233.27 475.48,233.12 476.98,232.98 478.49,232.84 480,232.7" fill="none" stroke="#ec4060" stroke-width="1" marker-start="url(#m4)" marker-mid="url(#m4)" marker-end="url(#m4)"/>
<polyline points="299,232 300.51,232.14 302.02,232.28 303.52,232.42 305.03,232.57 306.54,232.72 308.05,232.87 309.56,233.02 311.07,233.18 312.57,233.34 314.08,233.5 315.59,233.67 317.1,233.84 318.61,234.02 320.12,234.19 321.62,234.37 323.13,234.56 324.64,234.75 326.15,234.94 327.66,235.14 329.17,235.35 330.68,235.55 332.18,235.77 333.69,235.99 335.2,236.22 336.71,236.45 338.22,236.69 339.73,236.93 341.23,237.19 342.74,237.45 344.25,237.72 345.76,238 347.27,238.29 348.77,238.59 350.28,238.9 351.79,239.22 353.3,239.56 354.81,239.91 356.32,240.28 357.82,240.66 359.33,241.07 360.84,241.49 362.35,241.93 363.86,242.41 365.37,242.91 366.88,243.44 368.38,244.01 369.89,244.62 371.4,245.28 372.91,246 374.42,246.78 375.93,247.65 377.43,248.63 378.94,249.73 380.45,251 381.96,252.5 383.47,254.35 384.98,256.72 386.48,260.07 387.99,265.78 389.5,284.9 391.01,264.78 392.52,259.07 394.02,255.72 395.53,253.35 397.04,251.5 398.55,250 400.06,248.73 401.57,247.63 403.08,246.65 404.58,245.78 406.09,245 407.6,244.28 409.11,243.62 410.62,243.01 412.12,242.44 413.63,241.91 415.14,241.41 416.65,240.93 418.16,240.49 419.67,240.07 421.17,239.66 422.68,239.28 424.19,238.91 425.7,238.56 427.21,238.22 428.72,237.9 430.23,237.59 431.73,237.29 433.24,237 434.75,236.72 436.26,236.45 437.77,236.19 439.27,235.93 440.78,235.69 442.29,235.45 443.8,235.22 445.31,234.99 446.82,234.77 448.33,234.55 449.83,234.35 451.34,234.14 452.85,233.94 454.36,233.75 455.87,233.56 457.38,233.37 458.88,233.19 460.39,233.02 461.9,232.84 463.41,232.67 464.92,232.5 466.43,232.34 467.93,232.18 469.44,232.02 470.95,231.87 472.46,231.72 473.97,231.57 475.48,231.42 476.98,231.28 478.49,231.14 480,231" fill="none" stroke="#ff9a30" stroke-width="1" marker-start="url(#m5)" marker-mid="url(#m5)" marker-end="url(#m5)"/>
<polyline points="299,229.9 300.51,230.04 302.02,230.18 303.52,230.32 305.03,230.47 306.54,230.62 308.05,230.77 309.56,230.92 311.07,231.08 312.57,231.24 314.08,231.4 315.59,231.57 317.1,231.74 318.61,231.92 320.12,232.09 321.62,232.27 323.13,232.46 324.64,232.65 326.15,232.84 327.66,233.04 329.17,233.25 330.68,233.45 332.18,233.67 333.69,233.89 335.2,234.12 336.71,234.35 338.22,234.59 339.73,234.83 341.23,235.09 342.74,235.35 344.25,235.62 345.76,235.9 347.27,236.19 348.77,236.49 350.28,236.8 351.79,237.12 353.3,237.46 354.81,237.81 356.32,238.18 357.82,238.56 359.33,238.97 360.84,239.39 362.35,239.83 363.86,240.31 365.37,240.81 366.88,241.34 368.38,241.91 369.89,242.52 371.4,243.18 372.91,243.9 374.42,244.68 375.93,245.55 377.43,246.53 378.94,247.63 380.45,248.9 381.96,250.4 383.47,252.25 384.98,254.62 386.48,257.97 387.99,263.68 389.5,280.7 391.01,262.68 392.52,256.97 394.02,253.62 395.53,251.25 397.04,249.4 398.55,247.9 400.06,246.63 401.57,245.53 403.08,244.55 404.58,243.68 406.09,242.9 407.6,242.18 409.11,241.52 410.62,240.91 412.12,240.34 413.63,239.81 415.14,239.31 416.65,238.83 418.16,238.39 419.67,237.97 421.17,237.56 422.68,237.18 424.19,236.81 425.7,236.46 427.21,236.12 428.72,235.8 430.23,235.49 431.73,235.19 433.24,234.9 434.75,234.62 436.26,234.35 437.77,234.09 439.27,233.83 440.78,233.59 442.29,233.35 443.8,233.12 445.31,232.89 446.82,232.67 448.33,232.45 449.83,232.25 451.34,232.04 452.85,231.84 454.36,231.65 455.87,231.46 457.38,231.27 458.88,231.09 460.39,230.92 461.9,230.74 463.41,230.57 464.92,230.4 466.43,230.24 467.93,230.08 469.44,229.92 470.95,229.77 472.46,229.62 473.97,229.47 475.48,229.32 476.98,229.18 478.49,229.04 480,228.9" fill="none" stroke="#ffff14" stroke-width="1" marker-start="url(#m6)" marker-mid="url(#m6)" marker-end="url(#m6)"/>
</g>
<path d="M299 208.5h3.5M480 208.5h-3.5M299 221.21h1.8M480 221.21h-1.8M299 218.01h1.8M480 218.01h-1.8M299 215.74h1.8M480 215.74h-1.8M299 213.97h1.8M480 213.97h-1.8M299 212.53h1.8M480 212.53h-1.8M299 211.32h1.8M480 211.32h-1.8M299 210.26h1.8M480 210.26h-1.8M299 209.33h1.8M480 209.33h-1.8M299 226.69h3.5M480 226.69h-3.5M299 239.4h1.8M480 239.4h-1.8M299 236.2h1.8M480 236.2h-1.8M299 233.93h1.8M480 233.93h-1.8M299 232.16h1.8M480 232.16h-1.8M299 230.72h1.8M480 230.72h-1.8M299 229.5h1.8M480 229.5h-1.8M299 228.45h1.8M480 228.45h-1.8M299 227.52h1.8M480 227.52h-1.8M299 244.88h3.5M480 244.88h-3.5M299 257.59h1.8M480 257.59h-1.8M299 254.38h1.8M480 254.38h-1.8M299 252.11h1.8M480 252.11h-1.8M299 250.35h1.8M480 250.35h-1.8M299 248.91h1.8M480 248.91h-1.8M299 247.69h1.8M480 247.69h-1.8M299 246.64h1.8M480 246.64h-1.8M299 245.71h1.8M480 245.71h-1.8M299 263.06h3.5M480 263.06h-3.5M299 275.78h1.8M480 275.78h-1.8M299 272.57h1.8M480 272.57h-1.8M299 270.3h1.8M480 270.3h-1.8M299 268.54h1.8M480 268.54h-1.8M299 267.1h1.8M480 267.1h-1.8M299 265.88h1.8M480 265.88h-1.8M299 264.83h1.8M480 264.83h-1.8M299 263.89h1.8M480 263.89h-1.8M299 281.25h3.5M480 281.25h-3.5M299 293.96h1.8M480 293.96h-1.8M299 290.76h1.8M480 290.76h-1.8M299 288.49h1.8M480 288.49h-1.8M299 286.72h1.8M480 286.72h-1.8M299 285.28h1.8M480 285.28h-1.8M299 284.07h1.8M480 284.07h-1.8M299 283.01h1.8M480 283.01h-1.8M299 282.08h1.8M480 282.08h-1.8M299 299.44h3.5M480 299.44h-3.5M299 312.15h1.8M480 312.15h-1.8M299 308.95h1.8M480 308.95h-1.8M299 306.68h1.8M480 306.68h-1.8M299 304.91h1.8M480 304.91h-1.8M299 303.47h1.8M480 303.47h-1.8M299 302.25h1.8M480 302.25h-1.8M299 301.2h1.8M480 301.2h-1.8M299 300.27h1.8M480 300.27h-1.8M299 317.62h3.5M480 317.62h-3.5M299 330.34h1.8M480 330.34h-1.8M299 327.13h1.8M480 327.13h-1.8M299 324.86h1.8M480 324.86h-1.8M299 323.1h1.8M480 323.1h-1.8M299 321.66h1.8M480 321.66h-1.8M299 320.44h1.8M480 320.44h-1.8M299 319.39h1.8M480 319.39h-1.8M299 318.46h1.8M480 318.46h-1.8M299 335.81h3.5M480 335.81h-3.5M299 348.53h1.8M480 348.53h-1.8M299 345.32h1.8M480 345.32h-1.8M299 343.05h1.8M480 343.05h-1.8M299 341.29h1.8M480 341.29h-1.8M299 339.85h1.8M480 339.85h-1.8M299 338.63h1.8M480 338.63h-1.8M299 337.58h1.8M480 337.58h-1.8M299 336.64h1.8M480 336.64h-1.8M299 354h3.5M480 354h-3.5M299 354v4.2M314.08 354v2.2M329.17 354v4.2M344.25 354v2.2M359.33 354v4.2M374.42 354v2.2M389.5 354v4.2M404.58 354v2.2M419.67 354v4.2M434.75 354v2.2M449.83 354v4.2M464.92 354v2.2M480 354v4.2" stroke="#000" stroke-width="1.5" fill="none"/>
<rect x="299" y="208.5" width="181" height="145.5" fill="none" stroke="#000" stroke-width="2"/>
<text x="293.9" y="210.3" font-size="8.2" text-anchor="end" textLength="20.3" lengthAdjust="spacingAndGlyphs">1.0E-3</text>
<text x="293.9" y="228.49" font-size="8.2" text-anchor="end" textLength="20.3" lengthAdjust="spacingAndGlyphs">1.0E-4</text>
<text x="293.9" y="246.68" font-size="8.2" text-anchor="end" textLength="20.3" lengthAdjust="spacingAndGlyphs">1.0E-5</text>
<text x="293.9" y="264.86" font-size="8.2" text-anchor="end" textLength="20.3" lengthAdjust="spacingAndGlyphs">1.0E-6</text>
<text x="293.9" y="283.05" font-size="8.2" text-anchor="end" textLength="20.3" lengthAdjust="spacingAndGlyphs">1.0E-7</text>
<text x="293.9" y="301.24" font-size="8.2" text-anchor="end" textLength="20.3" lengthAdjust="spacingAndGlyphs">1.0E-8</text>
<text x="293.9" y="319.43" font-size="8.2" text-anchor="end" textLength="20.3" lengthAdjust="spacingAndGlyphs">1.0E-9</text>
<text x="293.9" y="337.61" font-size="8.2" text-anchor="end" textLength="24.1" lengthAdjust="spacingAndGlyphs">1.0E-10</text>
<text x="293.9" y="355.8" font-size="8.2" text-anchor="end" textLength="24.1" lengthAdjust="spacingAndGlyphs">1.0E-11</text>
<text x="299" y="367.8" font-size="8" text-anchor="middle">-3</text>
<text x="329.17" y="367.8" font-size="8" text-anchor="middle">-2</text>
<text x="359.33" y="367.8" font-size="8" text-anchor="middle">-1</text>
<text x="389.5" y="367.8" font-size="8" text-anchor="middle">0</text>
<text x="419.67" y="367.8" font-size="8" text-anchor="middle">1</text>
<text x="449.83" y="367.8" font-size="8" text-anchor="middle">2</text>
<text x="480" y="367.8" font-size="8" text-anchor="middle">3</text>
<text x="389" y="382.8" font-size="9.7" text-anchor="middle" textLength="47.5" lengthAdjust="spacingAndGlyphs">Voltage (V)</text>
<text x="0" y="0" font-size="9.6" text-anchor="middle" textLength="49" lengthAdjust="spacingAndGlyphs" transform="translate(265 280.3) rotate(-90)">Current (A)</text>
<text x="245.7" y="208.9" font-size="18.5" textLength="20.2" lengthAdjust="spacingAndGlyphs">(e)</text>
<rect x="308.7" y="214.1" width="75.5" height="14.3" fill="#000"/>
<rect x="306.2" y="211.6" width="75.5" height="14.3" fill="#fff" stroke="#222" stroke-width="0.9"/>
<text x="307.7" y="220.9" font-size="8.6" textLength="72.3" lengthAdjust="spacingAndGlyphs">CsPbBr<tspan font-size="7" dy="2">3</tspan><tspan dy="-2">/SnO</tspan><tspan font-size="7" dy="2">2</tspan><tspan dy="-2"> (T600)</tspan></text>
<text x="393.5" y="304.7" font-size="8.3" textLength="82.7" lengthAdjust="spacingAndGlyphs">Power density (mW cm<tspan font-size="5.5" dy="-3">-2</tspan><tspan dy="3">)</tspan></text>
<line x1="399.2" y1="313.1" x2="416" y2="313.1" stroke="#1a1a50" stroke-width="1.7"/>
<rect x="405.48" y="310.98" width="4.25" height="4.25" fill="#1a1a50"/>
<text x="418" y="315.5" font-size="7.6">Dark</text>
<line x1="399.2" y1="322.5" x2="416" y2="322.5" stroke="#1c1c96" stroke-width="1.7"/>
<circle cx="407.6" cy="322.5" r="2.38" fill="#1c1c96"/>
<text x="418" y="324.9" font-size="7.6">0.10</text>
<line x1="435.6" y1="322.5" x2="452" y2="322.5" stroke="#6e1a8c" stroke-width="1.7"/>
<polygon points="443.8,320 446.3,324.5 441.3,324.5" fill="#6e1a8c"/>
<text x="454.1" y="324.9" font-size="7.6">0.17</text>
<line x1="399.2" y1="332" x2="416" y2="332" stroke="#c0143c" stroke-width="1.7"/>
<polygon points="407.6,334.5 410.1,330 405.1,330" fill="#c0143c"/>
<text x="418" y="334.4" font-size="7.6">0.22</text>
<line x1="435.6" y1="332" x2="452" y2="332" stroke="#ff2a1a" stroke-width="1.7"/>
<polygon points="443.8,329.25 446.55,332 443.8,334.75 441.05,332" fill="#ff2a1a"/>
<text x="454.1" y="334.4" font-size="7.6">0.30</text>
<line x1="399.2" y1="341.3" x2="416" y2="341.3" stroke="#ff8c1a" stroke-width="1.7"/>
<polygon points="405.1,341.3 409.6,338.8 409.6,343.8" fill="#ff8c1a"/>
<text x="418" y="343.7" font-size="7.6">0.40</text>
<line x1="435.6" y1="341.3" x2="452" y2="341.3" stroke="#ffff1a" stroke-width="1.7"/>
<polygon points="446.3,341.3 441.8,338.8 441.8,343.8" fill="#ffff1a"/>
<text x="454.1" y="343.7" font-size="7.6">0.50</text>
<path d="M542 352.37h1.8M722 352.37h-1.8M542 349.09h1.8M722 349.09h-1.8M542 346.25h1.8M722 346.25h-1.8M542 343.74h1.8M722 343.74h-1.8M542 341.5h3.5M722 341.5h-3.5M542 326.75h1.8M722 326.75h-1.8M542 318.12h1.8M722 318.12h-1.8M542 312h1.8M722 312h-1.8M542 307.25h1.8M722 307.25h-1.8M542 303.37h1.8M722 303.37h-1.8M542 300.09h1.8M722 300.09h-1.8M542 297.25h1.8M722 297.25h-1.8M542 294.74h1.8M722 294.74h-1.8M542 292.5h3.5M722 292.5h-3.5M542 277.75h1.8M722 277.75h-1.8M542 269.12h1.8M722 269.12h-1.8M542 263h1.8M722 263h-1.8M542 258.25h1.8M722 258.25h-1.8M542 254.37h1.8M722 254.37h-1.8M542 251.09h1.8M722 251.09h-1.8M542 248.25h1.8M722 248.25h-1.8M542 245.74h1.8M722 245.74h-1.8M542 243.5h3.5M722 243.5h-3.5M542 228.75h1.8M722 228.75h-1.8M542 220.12h1.8M722 220.12h-1.8M542 214h1.8M722 214h-1.8M542 354.5v3.5M542 210v3.5M562.05 354.5v1.8M562.05 210v1.8M573.78 354.5v1.8M573.78 210v1.8M582.1 354.5v1.8M582.1 210v1.8M588.55 354.5v1.8M588.55 210v1.8M593.82 354.5v1.8M593.82 210v1.8M598.28 354.5v1.8M598.28 210v1.8M602.15 354.5v1.8M602.15 210v1.8M605.55 354.5v1.8M605.55 210v1.8M608.6 354.5v3.5M608.6 210v3.5M628.65 354.5v1.8M628.65 210v1.8M640.38 354.5v1.8M640.38 210v1.8M648.7 354.5v1.8M648.7 210v1.8M655.15 354.5v1.8M655.15 210v1.8M660.42 354.5v1.8M660.42 210v1.8M664.88 354.5v1.8M664.88 210v1.8M668.75 354.5v1.8M668.75 210v1.8M672.15 354.5v1.8M672.15 210v1.8M675.2 354.5v3.5M675.2 210v3.5M695.25 354.5v1.8M695.25 210v1.8M706.98 354.5v1.8M706.98 210v1.8M715.3 354.5v1.8M715.3 210v1.8" stroke="#000" stroke-width="1.3" fill="none"/>
<rect x="542" y="210" width="180" height="144.5" fill="none" stroke="#000" stroke-width="1.9"/>
<text x="537.2" y="246" font-size="7.4" text-anchor="end" textLength="15.5" lengthAdjust="spacingAndGlyphs">1E-4</text>
<text x="537.2" y="295" font-size="7.4" text-anchor="end" textLength="15.5" lengthAdjust="spacingAndGlyphs">1E-5</text>
<text x="537.2" y="344" font-size="7.4" text-anchor="end" textLength="15.5" lengthAdjust="spacingAndGlyphs">1E-6</text>
<text x="542" y="368.8" font-size="7.4" text-anchor="middle">10</text>
<text x="608.6" y="368.8" font-size="7.4" text-anchor="middle">100</text>
<text x="675.2" y="368.8" font-size="7.4" text-anchor="middle">1000</text>
<text x="632" y="382.1" font-size="10" text-anchor="middle" textLength="105.5" lengthAdjust="spacingAndGlyphs">Light intensity (mW cm<tspan font-size="6.5" dy="-3.5">-2</tspan><tspan dy="3.5">)</tspan></text>
<text x="0" y="0" font-size="9.6" text-anchor="middle" textLength="49" lengthAdjust="spacingAndGlyphs" transform="translate(517.6 282.4) rotate(-90)">Current (A)</text>
<text x="488.8" y="210.3" font-size="18.5" textLength="18.7" lengthAdjust="spacingAndGlyphs">(f)</text>
<line x1="592.1" y1="339.4" x2="693.9" y2="299.3" stroke="#111111" stroke-width="1.6"/>
<line x1="592.1" y1="312.3" x2="693.9" y2="270.4" stroke="#ff1a1a" stroke-width="1.6"/>
<line x1="592.1" y1="289.9" x2="693.9" y2="256.9" stroke="#1a2cff" stroke-width="1.6"/>
<line x1="592.1" y1="277.1" x2="693.9" y2="232" stroke="#1f5a5a" stroke-width="1.6"/>
<line x1="592.1" y1="291" x2="693.9" y2="248" stroke="#7a2ef0" stroke-width="1.6"/>
<rect x="589.81" y="339.31" width="4.59" height="4.59" fill="#444444"/>
<rect x="626.61" y="317.31" width="4.59" height="4.59" fill="#444444"/>
<rect x="665.81" y="308.5" width="4.59" height="4.59" fill="#444444"/>
<rect x="682.81" y="302.31" width="4.59" height="4.59" fill="#444444"/>
<rect x="691.61" y="297" width="4.59" height="4.59" fill="#444444"/>
<circle cx="592.1" cy="312.3" r="2.94" fill="#ff1a1a"/>
<circle cx="628.9" cy="300.2" r="2.94" fill="#ff1a1a"/>
<circle cx="668.1" cy="281" r="2.94" fill="#ff1a1a"/>
<circle cx="685.1" cy="274.4" r="2.94" fill="#ff1a1a"/>
<circle cx="693.9" cy="270.4" r="2.94" fill="#ff1a1a"/>
<polygon points="592.1,285.2 595.7,291.68 588.5,291.68" fill="#1a3cff"/>
<polygon points="628.9,274.2 632.5,280.68 625.3,280.68" fill="#1a3cff"/>
<polygon points="668.1,262.1 671.7,268.58 664.5,268.58" fill="#1a3cff"/>
<polygon points="685.1,257.2 688.7,263.68 681.5,263.68" fill="#1a3cff"/>
<polygon points="693.9,251.1 697.5,257.58 690.3,257.58" fill="#1a3cff"/>
<polygon points="592.1,274.1 595.7,267.62 588.5,267.62" fill="#1a8a2a"/>
<polygon points="628.9,267.5 632.5,261.02 625.3,261.02" fill="#1a8a2a"/>
<polygon points="668.1,253.9 671.7,247.42 664.5,247.42" fill="#1a8a2a"/>
<polygon points="685.1,241.7 688.7,235.22 681.5,235.22" fill="#1a8a2a"/>
<polygon points="693.9,231.2 697.5,224.72 690.3,224.72" fill="#1a8a2a"/>
<polygon points="592.1,288.07 595.73,291.7 592.1,295.33 588.47,291.7" fill="#9a4af0"/>
<polygon points="628.9,275.27 632.53,278.9 628.9,282.53 625.27,278.9" fill="#9a4af0"/>
<polygon points="668.1,258.77 671.73,262.4 668.1,266.03 664.47,262.4" fill="#9a4af0"/>
<polygon points="685.1,250.57 688.73,254.2 685.1,257.83 681.47,254.2" fill="#9a4af0"/>
<polygon points="693.9,244.47 697.53,248.1 693.9,251.73 690.27,248.1" fill="#9a4af0"/>
<rect x="547.2" y="212.4" width="38.1" height="51.8" fill="#fff" stroke="#c8c8c8" stroke-width="0.8"/>
<rect x="554.12" y="216.22" width="4.76" height="4.76" fill="#444444"/>
<text x="565.9" y="221.4" font-size="8.3">T0</text>
<circle cx="556.5" cy="228.9" r="2.85" fill="#ff1a1a"/>
<text x="565.9" y="231.7" font-size="8.3">T300</text>
<polygon points="556.5,235.6 559.9,241.72 553.1,241.72" fill="#1a3cff"/>
<text x="565.9" y="241.8" font-size="8.3">T400</text>
<polygon points="556.5,252.8 559.9,246.68 553.1,246.68" fill="#1a8a2a"/>
<text x="565.9" y="252.2" font-size="8.3">T500</text>
<polygon points="556.5,256.39 559.91,259.8 556.5,263.21 553.09,259.8" fill="#9a4af0"/>
<text x="565.9" y="262.6" font-size="8.3">T600</text>
<text x="549.6" y="297.6" font-size="8.8" font-style="italic">&#952;</text>
<text x="553.9" y="300" font-size="5.9" textLength="6.2" lengthAdjust="spacingAndGlyphs">T0</text>
<text x="560.8" y="297.6" font-size="7.9" textLength="18.2" lengthAdjust="spacingAndGlyphs">=0.53</text>
<text x="549.6" y="310.1" font-size="8.8" font-style="italic">&#952;</text>
<text x="553.9" y="312.5" font-size="5.9" textLength="11.8" lengthAdjust="spacingAndGlyphs">T300</text>
<text x="566.4" y="310.1" font-size="7.9" textLength="18.2" lengthAdjust="spacingAndGlyphs">=0.57</text>
<text x="549.6" y="322.4" font-size="8.8" font-style="italic">&#952;</text>
<text x="553.9" y="324.8" font-size="5.9" textLength="12.2" lengthAdjust="spacingAndGlyphs">T400</text>
<text x="566.8" y="322.4" font-size="7.9" textLength="18.2" lengthAdjust="spacingAndGlyphs">=0.44</text>
<text x="549.6" y="334.4" font-size="8.8" font-style="italic">&#952;</text>
<text x="553.9" y="336.8" font-size="5.9" textLength="12" lengthAdjust="spacingAndGlyphs">T500</text>
<text x="566.6" y="334.4" font-size="7.9" textLength="18.2" lengthAdjust="spacingAndGlyphs">=0.61</text>
<text x="549.6" y="345.8" font-size="8.8" font-style="italic">&#952;</text>
<text x="553.9" y="348.2" font-size="5.9" textLength="12" lengthAdjust="spacingAndGlyphs">T600</text>
<text x="566.6" y="345.8" font-size="7.9" textLength="18.2" lengthAdjust="spacingAndGlyphs">=0.58</text>
<text x="664" y="337.5" font-size="9.2"><tspan font-style="italic">I</tspan><tspan font-weight="normal"> = &#945;</tspan><tspan font-style="italic" font-size="8">P</tspan><tspan font-style="italic" font-size="7" dy="-4">&#952;</tspan></text>
</svg>
</body></html>
